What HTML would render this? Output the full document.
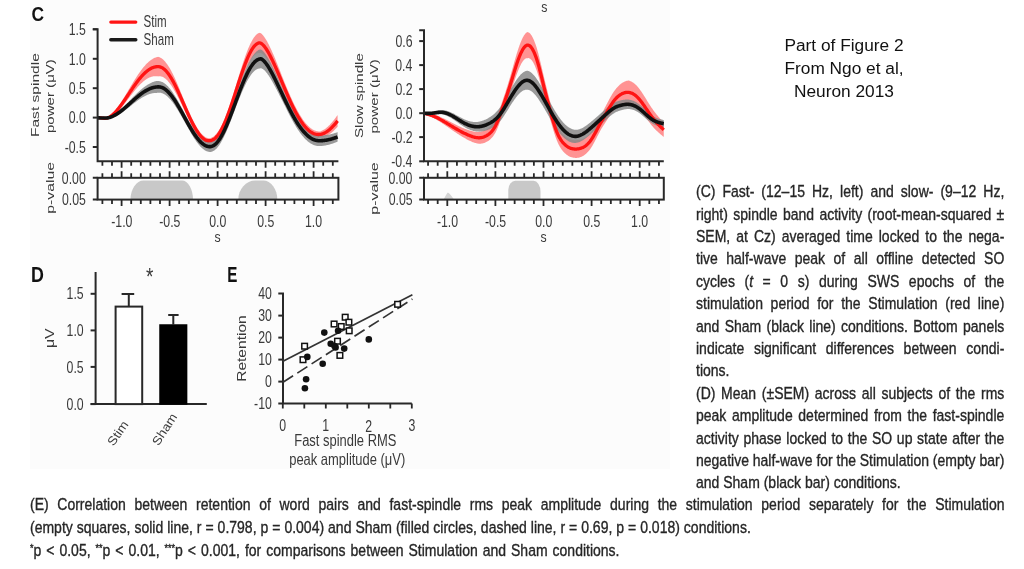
<!DOCTYPE html>
<html><head><meta charset="utf-8"><title>Ngo et al. 2013 Figure 2</title>
<style>
html,body{margin:0;padding:0;background:#fff;}
body{width:1024px;height:569px;position:relative;overflow:hidden;font-family:"Liberation Sans",Arial,Helvetica,sans-serif;}
#fig{position:absolute;left:0;top:0;filter:blur(0.55px);}
.bg{position:absolute;left:30px;top:0;width:640px;height:469px;background:#fcfcfc;}
.l{position:absolute;font-size:14px;line-height:22px;color:#262626;white-space:nowrap;-webkit-text-stroke:0.3px #262626;filter:blur(0.45px);transform-origin:0 15.85px;transform:scaleY(1.12);}
.l sup{font-size:9px;vertical-align:0;position:relative;top:-4px;}
.note{position:absolute;left:744px;width:200px;top:34.3px;text-align:center;font-size:17.3px;line-height:23px;color:#111;}
svg text{font-family:"Liberation Sans",Arial,Helvetica,sans-serif;stroke:none;}
</style></head>
<body>
<div class="bg"></div>
<svg id="fig" width="1024" height="569" viewBox="0 0 1024 569">
<path d="M130.5,199.6 L130.5,199.6 A13,19.0 0 0 1 143.5,180.6 L182.0,180.6 A11,19.0 0 0 1 193.0,199.6 L193.0,199.6 Z" fill="#c8c8c8"/>
<path d="M238.3,199.6 L238.3,199.6 A17,19.0 0 0 1 255.3,180.6 L263.3,180.6 A14,19.0 0 0 1 277.3,199.6 L277.3,199.6 Z" fill="#c8c8c8"/>
<path d="M508.3,199.6 L508.3,189.8 A7,9 0 0 1 515.3,180.8 L533.5,180.8 A7,11 0 0 1 540.5,191.8 L540.5,199.6 Z" fill="#c8c8c8"/>
<path d="M443.6,199.6 Q447.9,191.5 447.9,192.8 Q449,192 454,199.6 Z" fill="#d4d4d4"/>
<path d="M97.60,117.01 L98.08,116.99 L98.56,116.99 L99.04,117.01 L99.52,117.03 L100.00,117.07 L100.48,117.11 L100.96,117.16 L101.44,117.20 L101.92,117.25 L102.40,117.30 L102.88,117.34 L103.36,117.38 L103.84,117.40 L104.32,117.41 L104.80,117.42 L105.28,117.40 L105.76,117.36 L106.24,117.27 L106.72,117.15 L107.20,117.00 L107.68,116.82 L108.16,116.61 L108.64,116.37 L109.12,116.11 L109.60,115.83 L110.08,115.52 L110.56,115.19 L111.04,114.84 L111.52,114.46 L112.00,114.07 L112.48,113.58 L112.96,113.08 L113.44,112.56 L113.92,112.02 L114.40,111.46 L114.88,110.88 L115.36,110.29 L115.84,109.69 L116.32,109.06 L116.80,108.43 L117.28,107.78 L117.76,107.12 L118.24,106.44 L118.72,105.75 L119.20,105.05 L119.68,104.34 L120.16,103.62 L120.64,102.89 L121.12,102.15 L121.60,101.40 L122.08,100.65 L122.56,99.88 L123.04,99.11 L123.52,98.34 L124.00,97.55 L124.48,96.77 L124.96,95.97 L125.44,95.18 L125.92,94.38 L126.40,93.58 L126.88,92.77 L127.36,91.96 L127.84,91.16 L128.32,90.35 L128.80,89.54 L129.28,88.73 L129.76,87.92 L130.24,87.12 L130.72,86.31 L131.20,85.51 L131.68,84.71 L132.16,83.92 L132.64,83.13 L133.12,82.34 L133.60,81.56 L134.08,80.78 L134.56,80.01 L135.04,79.24 L135.52,78.49 L136.00,77.73 L136.48,76.99 L136.96,76.26 L137.44,75.53 L137.92,74.81 L138.40,74.11 L138.88,73.41 L139.36,72.72 L139.84,72.04 L140.32,71.38 L140.80,70.72 L141.28,70.08 L141.76,69.44 L142.24,68.83 L142.72,68.22 L143.20,67.62 L143.68,67.04 L144.16,66.48 L144.64,65.92 L145.12,65.38 L145.60,64.86 L146.08,64.35 L146.56,63.85 L147.04,63.37 L147.52,62.91 L148.00,62.46 L148.48,62.02 L148.96,61.61 L149.44,61.20 L149.92,60.82 L150.40,60.45 L150.88,60.09 L151.36,59.76 L151.84,59.44 L152.32,59.13 L152.80,58.84 L153.28,58.57 L153.76,58.32 L154.24,58.09 L154.72,57.87 L155.20,57.67 L155.68,57.48 L156.16,57.31 L156.64,57.16 L157.12,57.03 L157.60,56.92 L158.08,56.82 L158.56,56.93 L159.04,57.07 L159.52,57.24 L160.00,57.45 L160.48,57.69 L160.96,57.96 L161.44,58.27 L161.92,58.60 L162.40,58.97 L162.88,59.37 L163.36,59.80 L163.84,60.26 L164.32,60.75 L164.80,61.27 L165.28,61.82 L165.76,62.40 L166.24,63.01 L166.72,63.65 L167.20,64.31 L167.68,65.01 L168.16,65.73 L168.64,66.47 L169.12,67.25 L169.60,68.04 L170.08,68.87 L170.56,69.71 L171.04,70.58 L171.52,71.48 L172.00,72.39 L172.48,73.33 L172.96,74.28 L173.44,75.26 L173.92,76.26 L174.40,77.27 L174.88,78.30 L175.36,79.35 L175.84,80.41 L176.32,81.49 L176.80,82.58 L177.28,83.68 L177.76,84.80 L178.24,85.93 L178.72,87.07 L179.20,88.22 L179.68,89.37 L180.16,90.54 L180.64,91.71 L181.12,92.89 L181.60,94.07 L182.08,95.26 L182.56,96.44 L183.04,97.64 L183.52,98.83 L184.00,100.02 L184.48,101.16 L184.96,102.30 L185.44,103.44 L185.92,104.57 L186.40,105.70 L186.88,106.82 L187.36,107.93 L187.84,109.04 L188.32,110.14 L188.80,111.23 L189.28,112.31 L189.76,113.38 L190.24,114.43 L190.72,115.47 L191.20,116.50 L191.68,117.52 L192.16,118.51 L192.64,119.50 L193.12,120.46 L193.60,121.41 L194.08,122.33 L194.56,123.24 L195.04,124.13 L195.52,124.99 L196.00,125.83 L196.48,126.66 L196.96,127.45 L197.44,128.23 L197.92,128.97 L198.40,129.70 L198.88,130.39 L199.36,131.07 L199.84,131.71 L200.32,132.33 L200.80,132.91 L201.28,133.47 L201.76,134.01 L202.24,134.51 L202.72,134.98 L203.20,135.42 L203.68,135.83 L204.16,136.21 L204.64,136.56 L205.12,136.88 L205.60,137.16 L206.08,137.42 L206.56,137.64 L207.04,137.83 L207.52,137.99 L208.00,138.11 L208.48,138.21 L208.96,138.27 L209.44,138.30 L209.92,138.31 L210.40,138.18 L210.88,138.02 L211.36,137.84 L211.84,137.61 L212.32,137.36 L212.80,137.07 L213.28,136.74 L213.76,136.38 L214.24,135.98 L214.72,135.55 L215.20,135.08 L215.68,134.58 L216.16,134.04 L216.64,133.46 L217.12,132.84 L217.60,132.19 L218.08,131.50 L218.56,130.78 L219.04,130.01 L219.52,129.22 L220.00,128.39 L220.48,127.52 L220.96,126.62 L221.44,125.68 L221.92,124.71 L222.40,123.71 L222.88,122.67 L223.36,121.61 L223.84,120.51 L224.32,119.38 L224.80,118.22 L225.28,117.04 L225.76,115.82 L226.24,114.58 L226.72,113.31 L227.20,112.02 L227.68,110.70 L228.16,109.36 L228.64,107.99 L229.12,106.61 L229.60,105.21 L230.08,103.78 L230.56,102.34 L231.04,100.89 L231.52,99.41 L232.00,97.93 L232.48,96.43 L232.96,94.92 L233.44,93.40 L233.92,91.87 L234.40,90.33 L234.88,88.79 L235.36,87.24 L235.84,85.69 L236.32,84.14 L236.80,82.59 L237.28,81.01 L237.76,79.44 L238.24,77.87 L238.72,76.31 L239.20,74.75 L239.68,73.21 L240.16,71.67 L240.64,70.14 L241.12,68.63 L241.60,67.13 L242.08,65.64 L242.56,64.17 L243.04,62.72 L243.52,61.29 L244.00,59.88 L244.48,58.49 L244.96,57.13 L245.44,55.79 L245.92,54.48 L246.40,53.20 L246.88,51.94 L247.36,50.72 L247.84,49.52 L248.32,48.36 L248.80,47.24 L249.28,46.14 L249.76,45.09 L250.24,44.07 L250.72,43.09 L251.20,42.15 L251.68,41.24 L252.16,40.38 L252.64,39.57 L253.12,38.79 L253.60,38.06 L254.08,37.37 L254.56,36.73 L255.04,36.13 L255.52,35.58 L256.00,35.08 L256.48,34.62 L256.96,34.22 L257.44,33.86 L257.92,33.55 L258.40,33.29 L258.88,33.07 L259.36,32.91 L259.84,32.80 L260.32,32.98 L260.80,33.25 L261.28,33.60 L261.76,34.01 L262.24,34.47 L262.72,34.99 L263.20,35.55 L263.68,36.15 L264.16,36.79 L264.64,37.47 L265.12,38.19 L265.60,38.94 L266.08,39.72 L266.56,40.53 L267.04,41.37 L267.52,42.24 L268.00,43.13 L268.48,44.05 L268.96,44.99 L269.44,45.95 L269.92,46.94 L270.40,47.94 L270.88,48.97 L271.36,50.01 L271.84,51.07 L272.32,52.14 L272.80,53.23 L273.28,54.34 L273.76,55.45 L274.24,56.58 L274.72,57.72 L275.20,58.87 L275.68,60.03 L276.16,61.20 L276.64,62.38 L277.12,63.57 L277.60,64.76 L278.08,65.96 L278.56,67.16 L279.04,68.37 L279.52,69.58 L280.00,70.79 L280.48,72.01 L280.96,73.22 L281.44,74.44 L281.92,75.66 L282.40,76.88 L282.88,78.09 L283.36,79.31 L283.84,80.52 L284.32,81.73 L284.80,82.93 L285.28,84.10 L285.76,85.25 L286.24,86.40 L286.72,87.55 L287.20,88.69 L287.68,89.82 L288.16,90.94 L288.64,92.06 L289.12,93.17 L289.60,94.27 L290.08,95.36 L290.56,96.44 L291.04,97.51 L291.52,98.56 L292.00,99.61 L292.48,100.65 L292.96,101.67 L293.44,102.68 L293.92,103.68 L294.40,104.66 L294.88,105.63 L295.36,106.59 L295.84,107.53 L296.32,108.46 L296.80,109.37 L297.28,110.27 L297.76,111.15 L298.24,112.01 L298.72,112.86 L299.20,113.70 L299.68,114.51 L300.16,115.31 L300.64,116.09 L301.12,116.85 L301.60,117.60 L302.08,118.33 L302.56,119.04 L303.04,119.73 L303.52,120.40 L304.00,121.05 L304.48,121.69 L304.96,122.30 L305.44,122.90 L305.92,123.47 L306.40,124.03 L306.88,124.57 L307.36,125.08 L307.84,125.58 L308.32,126.06 L308.80,126.52 L309.28,126.95 L309.76,127.37 L310.24,127.76 L310.72,128.14 L311.20,128.50 L311.68,128.83 L312.16,129.15 L312.64,129.44 L313.12,129.71 L313.60,129.97 L314.08,130.20 L314.56,130.41 L315.04,130.60 L315.52,130.77 L316.00,130.92 L316.48,131.05 L316.96,131.16 L317.44,131.26 L317.92,131.33 L318.40,131.38 L318.88,131.41 L319.36,131.42 L319.84,131.41 L320.32,131.38 L320.80,131.22 L321.28,131.03 L321.76,130.82 L322.24,130.60 L322.72,130.36 L323.20,130.10 L323.68,129.82 L324.16,129.52 L324.64,129.21 L325.12,128.88 L325.60,128.53 L326.08,128.16 L326.56,127.77 L327.04,127.37 L327.52,126.96 L328.00,126.52 L328.48,126.07 L328.96,125.61 L329.44,125.13 L329.92,124.63 L330.40,124.12 L330.88,123.60 L331.36,123.06 L331.84,122.50 L332.32,121.94 L332.80,121.36 L333.28,120.77 L333.76,120.17 L334.24,119.55 L334.72,118.93 L335.20,118.29 L335.68,117.64 L336.16,116.99 L336.64,116.32 L337.12,115.65 L337.60,114.96 L337.60,126.82 L337.12,127.34 L336.64,127.85 L336.16,128.35 L335.68,128.85 L335.20,129.33 L334.72,129.80 L334.24,130.26 L333.76,130.71 L333.28,131.15 L332.80,131.57 L332.32,131.99 L331.84,132.39 L331.36,132.78 L330.88,133.15 L330.40,133.51 L329.92,133.86 L329.44,134.19 L328.96,134.50 L328.48,134.80 L328.00,135.09 L327.52,135.36 L327.04,135.61 L326.56,135.85 L326.08,136.07 L325.60,136.27 L325.12,136.45 L324.64,136.62 L324.16,136.77 L323.68,136.90 L323.20,137.02 L322.72,137.11 L322.24,137.19 L321.76,137.25 L321.28,137.29 L320.80,137.31 L320.32,137.31 L319.84,137.42 L319.36,137.51 L318.88,137.58 L318.40,137.63 L317.92,137.66 L317.44,137.67 L316.96,137.66 L316.48,137.63 L316.00,137.58 L315.52,137.50 L315.04,137.41 L314.56,137.30 L314.08,137.17 L313.60,137.02 L313.12,136.84 L312.64,136.65 L312.16,136.44 L311.68,136.20 L311.20,135.95 L310.72,135.67 L310.24,135.38 L309.76,135.06 L309.28,134.73 L308.80,134.37 L308.32,133.99 L307.84,133.59 L307.36,133.18 L306.88,132.74 L306.40,132.28 L305.92,131.81 L305.44,131.31 L304.96,130.80 L304.48,130.26 L304.00,129.71 L303.52,129.13 L303.04,128.54 L302.56,127.93 L302.08,127.30 L301.60,126.65 L301.12,125.99 L300.64,125.31 L300.16,124.61 L299.68,123.89 L299.20,123.15 L298.72,122.40 L298.24,121.63 L297.76,120.85 L297.28,120.04 L296.80,119.23 L296.32,118.40 L295.84,117.55 L295.36,116.69 L294.88,115.81 L294.40,114.92 L293.92,114.01 L293.44,113.10 L292.96,112.17 L292.48,111.22 L292.00,110.27 L291.52,109.30 L291.04,108.32 L290.56,107.33 L290.08,106.34 L289.60,105.33 L289.12,104.31 L288.64,103.28 L288.16,102.24 L287.68,101.20 L287.20,100.15 L286.72,99.09 L286.24,98.02 L285.76,96.95 L285.28,95.88 L284.80,94.79 L284.32,93.75 L283.84,92.70 L283.36,91.65 L282.88,90.59 L282.40,89.54 L281.92,88.48 L281.44,87.42 L280.96,86.36 L280.48,85.30 L280.00,84.25 L279.52,83.19 L279.04,82.14 L278.56,81.10 L278.08,80.05 L277.60,79.01 L277.12,77.98 L276.64,76.96 L276.16,75.94 L275.68,74.93 L275.20,73.93 L274.72,72.94 L274.24,71.95 L273.76,70.98 L273.28,70.03 L272.80,69.08 L272.32,68.15 L271.84,67.24 L271.36,66.34 L270.88,65.46 L270.40,64.59 L269.92,63.75 L269.44,62.92 L268.96,62.12 L268.48,61.34 L268.00,60.58 L267.52,59.85 L267.04,59.14 L266.56,58.46 L266.08,57.81 L265.60,57.18 L265.12,56.59 L264.64,56.04 L264.16,55.52 L263.68,55.03 L263.20,54.59 L262.72,54.19 L262.24,53.84 L261.76,53.53 L261.28,53.28 L260.80,53.09 L260.32,52.98 L259.84,52.96 L259.36,52.90 L258.88,52.89 L258.40,52.93 L257.92,53.02 L257.44,53.15 L256.96,53.34 L256.48,53.57 L256.00,53.86 L255.52,54.19 L255.04,54.56 L254.56,54.99 L254.08,55.46 L253.60,55.97 L253.12,56.53 L252.64,57.13 L252.16,57.78 L251.68,58.47 L251.20,59.19 L250.72,59.96 L250.24,60.77 L249.76,61.62 L249.28,62.50 L248.80,63.42 L248.32,64.37 L247.84,65.36 L247.36,66.38 L246.88,67.43 L246.40,68.52 L245.92,69.63 L245.44,70.77 L244.96,71.93 L244.48,73.12 L244.00,74.34 L243.52,75.57 L243.04,76.83 L242.56,78.11 L242.08,79.40 L241.60,80.71 L241.12,82.04 L240.64,83.38 L240.16,84.74 L239.68,86.10 L239.20,87.48 L238.72,88.86 L238.24,90.25 L237.76,91.65 L237.28,93.05 L236.80,94.45 L236.32,95.87 L235.84,97.30 L235.36,98.72 L234.88,100.14 L234.40,101.56 L233.92,102.97 L233.44,104.37 L232.96,105.76 L232.48,107.14 L232.00,108.52 L231.52,109.88 L231.04,111.22 L230.56,112.55 L230.08,113.86 L229.60,115.16 L229.12,116.44 L228.64,117.69 L228.16,118.93 L227.68,120.14 L227.20,121.33 L226.72,122.50 L226.24,123.64 L225.76,124.76 L225.28,125.85 L224.80,126.91 L224.32,127.94 L223.84,128.94 L223.36,129.91 L222.88,130.85 L222.40,131.76 L221.92,132.63 L221.44,133.48 L220.96,134.28 L220.48,135.06 L220.00,135.80 L219.52,136.50 L219.04,137.17 L218.56,137.81 L218.08,138.40 L217.60,138.97 L217.12,139.49 L216.64,139.98 L216.16,140.43 L215.68,140.85 L215.20,141.23 L214.72,141.57 L214.24,141.87 L213.76,142.14 L213.28,142.38 L212.80,142.57 L212.32,142.74 L211.84,142.87 L211.36,142.96 L210.88,143.02 L210.40,143.05 L209.92,143.05 L209.44,143.13 L208.96,143.19 L208.48,143.21 L208.00,143.21 L207.52,143.17 L207.04,143.10 L206.56,143.00 L206.08,142.87 L205.60,142.70 L205.12,142.50 L204.64,142.27 L204.16,142.01 L203.68,141.72 L203.20,141.39 L202.72,141.04 L202.24,140.66 L201.76,140.24 L201.28,139.80 L200.80,139.33 L200.32,138.83 L199.84,138.30 L199.36,137.74 L198.88,137.16 L198.40,136.55 L197.92,135.91 L197.44,135.25 L196.96,134.57 L196.48,133.86 L196.00,133.13 L195.52,132.37 L195.04,131.59 L194.56,130.79 L194.08,129.98 L193.60,129.14 L193.12,128.28 L192.64,127.40 L192.16,126.51 L191.68,125.60 L191.20,124.67 L190.72,123.73 L190.24,122.78 L189.76,121.81 L189.28,120.83 L188.80,119.84 L188.32,118.84 L187.84,117.83 L187.36,116.81 L186.88,115.78 L186.40,114.74 L185.92,113.70 L185.44,112.66 L184.96,111.61 L184.48,110.56 L184.00,109.51 L183.52,108.50 L183.04,107.50 L182.56,106.49 L182.08,105.49 L181.60,104.49 L181.12,103.50 L180.64,102.51 L180.16,101.52 L179.68,100.54 L179.20,99.57 L178.72,98.61 L178.24,97.66 L177.76,96.72 L177.28,95.79 L176.80,94.87 L176.32,93.96 L175.84,93.07 L175.36,92.20 L174.88,91.33 L174.40,90.49 L173.92,89.66 L173.44,88.86 L172.96,88.07 L172.48,87.30 L172.00,86.55 L171.52,85.82 L171.04,85.11 L170.56,84.43 L170.08,83.77 L169.60,83.13 L169.12,82.52 L168.64,81.94 L168.16,81.38 L167.68,80.84 L167.20,80.34 L166.72,79.86 L166.24,79.41 L165.76,78.98 L165.28,78.59 L164.80,78.22 L164.32,77.89 L163.84,77.59 L163.36,77.31 L162.88,77.07 L162.40,76.86 L161.92,76.68 L161.44,76.53 L160.96,76.41 L160.48,76.33 L160.00,76.27 L159.52,76.25 L159.04,76.26 L158.56,76.31 L158.08,76.39 L157.60,76.31 L157.12,76.24 L156.64,76.19 L156.16,76.16 L155.68,76.15 L155.20,76.16 L154.72,76.18 L154.24,76.22 L153.76,76.27 L153.28,76.34 L152.80,76.43 L152.32,76.54 L151.84,76.66 L151.36,76.80 L150.88,76.96 L150.40,77.14 L149.92,77.33 L149.44,77.53 L148.96,77.75 L148.48,77.99 L148.00,78.25 L147.52,78.52 L147.04,78.80 L146.56,79.10 L146.08,79.42 L145.60,79.75 L145.12,80.09 L144.64,80.45 L144.16,80.83 L143.68,81.21 L143.20,81.61 L142.72,82.03 L142.24,82.45 L141.76,82.89 L141.28,83.34 L140.80,83.81 L140.32,84.28 L139.84,84.77 L139.36,85.27 L138.88,85.78 L138.40,86.29 L137.92,86.82 L137.44,87.36 L136.96,87.91 L136.48,88.46 L136.00,89.02 L135.52,89.59 L135.04,90.17 L134.56,90.76 L134.08,91.35 L133.60,91.94 L133.12,92.55 L132.64,93.15 L132.16,93.77 L131.68,94.38 L131.20,95.00 L130.72,95.62 L130.24,96.25 L129.76,96.88 L129.28,97.51 L128.80,98.14 L128.32,98.77 L127.84,99.40 L127.36,100.03 L126.88,100.66 L126.40,101.28 L125.92,101.91 L125.44,102.53 L124.96,103.15 L124.48,103.76 L124.00,104.37 L123.52,104.98 L123.04,105.58 L122.56,106.17 L122.08,106.75 L121.60,107.33 L121.12,107.90 L120.64,108.47 L120.16,109.02 L119.68,109.56 L119.20,110.09 L118.72,110.61 L118.24,111.12 L117.76,111.62 L117.28,112.11 L116.80,112.58 L116.32,113.04 L115.84,113.48 L115.36,113.91 L114.88,114.32 L114.40,114.72 L113.92,115.10 L113.44,115.46 L112.96,115.81 L112.48,116.13 L112.00,116.44 L111.52,116.79 L111.04,117.13 L110.56,117.44 L110.08,117.73 L109.60,118.00 L109.12,118.25 L108.64,118.47 L108.16,118.66 L107.68,118.83 L107.20,118.97 L106.72,119.09 L106.24,119.17 L105.76,119.21 L105.28,119.22 L104.80,119.19 L104.32,119.15 L103.84,119.10 L103.36,119.04 L102.88,118.96 L102.40,118.88 L101.92,118.80 L101.44,118.71 L100.96,118.62 L100.48,118.53 L100.00,118.45 L99.52,118.38 L99.04,118.31 L98.56,118.26 L98.08,118.22 L97.60,118.19 Z" fill="#ff8a8a" opacity="0.92"/>
<path d="M97.60,117.30 L98.08,117.29 L98.56,117.27 L99.04,117.26 L99.52,117.25 L100.00,117.24 L100.48,117.24 L100.96,117.24 L101.44,117.23 L101.92,117.23 L102.40,117.23 L102.88,117.22 L103.36,117.22 L103.84,117.21 L104.32,117.20 L104.80,117.18 L105.28,117.17 L105.76,117.14 L106.24,117.09 L106.72,117.03 L107.20,116.95 L107.68,116.85 L108.16,116.75 L108.64,116.62 L109.12,116.49 L109.60,116.34 L110.08,116.18 L110.56,116.00 L111.04,115.82 L111.52,115.62 L112.00,115.41 L112.48,115.15 L112.96,114.88 L113.44,114.61 L113.92,114.32 L114.40,114.02 L114.88,113.71 L115.36,113.39 L115.84,113.05 L116.32,112.71 L116.80,112.36 L117.28,112.00 L117.76,111.64 L118.24,111.26 L118.72,110.88 L119.20,110.48 L119.68,110.08 L120.16,109.67 L120.64,109.26 L121.12,108.84 L121.60,108.41 L122.08,107.98 L122.56,107.54 L123.04,107.09 L123.52,106.64 L124.00,106.19 L124.48,105.73 L124.96,105.26 L125.44,104.80 L125.92,104.33 L126.40,103.85 L126.88,103.38 L127.36,102.90 L127.84,102.42 L128.32,101.93 L128.80,101.45 L129.28,100.96 L129.76,100.48 L130.24,99.99 L130.72,99.50 L131.20,99.02 L131.68,98.53 L132.16,98.05 L132.64,97.56 L133.12,97.08 L133.60,96.60 L134.08,96.12 L134.56,95.65 L135.04,95.17 L135.52,94.70 L136.00,94.24 L136.48,93.78 L136.96,93.32 L137.44,92.86 L137.92,92.41 L138.40,91.97 L138.88,91.53 L139.36,91.09 L139.84,90.67 L140.32,90.24 L140.80,89.83 L141.28,89.42 L141.76,89.02 L142.24,88.62 L142.72,88.23 L143.20,87.85 L143.68,87.48 L144.16,87.11 L144.64,86.76 L145.12,86.41 L145.60,86.07 L146.08,85.74 L146.56,85.42 L147.04,85.10 L147.52,84.80 L148.00,84.51 L148.48,84.22 L148.96,83.95 L149.44,83.68 L149.92,83.43 L150.40,83.19 L150.88,82.95 L151.36,82.73 L151.84,82.52 L152.32,82.31 L152.80,82.12 L153.28,81.94 L153.76,81.77 L154.24,81.62 L154.72,81.47 L155.20,81.33 L155.68,81.21 L156.16,81.09 L156.64,81.07 L157.12,81.06 L157.60,81.05 L158.08,81.06 L158.56,81.08 L159.04,81.12 L159.52,81.19 L160.00,81.28 L160.48,81.39 L160.96,81.54 L161.44,81.70 L161.92,81.90 L162.40,82.11 L162.88,82.36 L163.36,82.62 L163.84,82.92 L164.32,83.23 L164.80,83.57 L165.28,83.94 L165.76,84.33 L166.24,84.74 L166.72,85.17 L167.20,85.63 L167.68,86.11 L168.16,86.61 L168.64,87.14 L169.12,87.68 L169.60,88.24 L170.08,88.83 L170.56,89.43 L171.04,90.06 L171.52,90.70 L172.00,91.36 L172.48,92.04 L172.96,92.73 L173.44,93.44 L173.92,94.17 L174.40,94.91 L174.88,95.67 L175.36,96.44 L175.84,97.22 L176.32,98.02 L176.80,98.83 L177.28,99.65 L177.76,100.48 L178.24,101.32 L178.72,102.17 L179.20,103.03 L179.68,103.89 L180.16,104.77 L180.64,105.65 L181.12,106.53 L181.60,107.42 L182.08,108.32 L182.56,109.21 L183.04,110.11 L183.52,111.02 L184.00,111.92 L184.48,112.82 L184.96,113.73 L185.44,114.63 L185.92,115.53 L186.40,116.43 L186.88,117.32 L187.36,118.21 L187.84,119.09 L188.32,119.97 L188.80,120.85 L189.28,121.66 L189.76,122.47 L190.24,123.26 L190.72,124.05 L191.20,124.83 L191.68,125.60 L192.16,126.35 L192.64,127.10 L193.12,127.83 L193.60,128.55 L194.08,129.25 L194.56,129.94 L195.04,130.62 L195.52,131.27 L196.00,131.92 L196.48,132.54 L196.96,133.15 L197.44,133.74 L197.92,134.31 L198.40,134.86 L198.88,135.39 L199.36,135.91 L199.84,136.40 L200.32,136.87 L200.80,137.32 L201.28,137.74 L201.76,138.15 L202.24,138.53 L202.72,138.89 L203.20,139.23 L203.68,139.54 L204.16,139.83 L204.64,140.09 L205.12,140.33 L205.60,140.55 L206.08,140.74 L206.56,140.90 L207.04,141.04 L207.52,141.16 L208.00,141.25 L208.48,141.31 L208.96,141.35 L209.44,141.36 L209.92,141.35 L210.40,141.30 L210.88,141.23 L211.36,141.13 L211.84,140.98 L212.32,140.80 L212.80,140.57 L213.28,140.31 L213.76,140.02 L214.24,139.68 L214.72,139.31 L215.20,138.90 L215.68,138.46 L216.16,137.97 L216.64,137.46 L217.12,136.90 L217.60,136.32 L218.08,135.69 L218.56,135.04 L219.04,134.35 L219.52,133.63 L220.00,132.88 L220.48,132.09 L220.96,131.28 L221.44,130.43 L221.92,129.56 L222.40,128.65 L222.88,127.72 L223.36,126.77 L223.84,125.78 L224.32,124.77 L224.80,123.74 L225.28,122.69 L225.76,121.61 L226.24,120.51 L226.72,119.39 L227.20,118.25 L227.68,117.09 L228.16,115.91 L228.64,114.72 L229.12,113.51 L229.60,112.29 L230.08,111.05 L230.56,109.80 L231.04,108.54 L231.52,107.27 L232.00,105.99 L232.48,104.70 L232.96,103.41 L233.44,102.11 L233.92,100.81 L234.40,99.50 L234.88,98.19 L235.36,96.88 L235.84,95.57 L236.32,94.26 L236.80,92.95 L237.28,91.58 L237.76,90.22 L238.24,88.86 L238.72,87.51 L239.20,86.17 L239.68,84.83 L240.16,83.51 L240.64,82.20 L241.12,80.90 L241.60,79.61 L242.08,78.34 L242.56,77.08 L243.04,75.84 L243.52,74.62 L244.00,73.42 L244.48,72.23 L244.96,71.07 L245.44,69.93 L245.92,68.81 L246.40,67.71 L246.88,66.64 L247.36,65.59 L247.84,64.57 L248.32,63.58 L248.80,62.61 L249.28,61.68 L249.76,60.77 L250.24,59.89 L250.72,59.04 L251.20,58.23 L251.68,57.44 L252.16,56.69 L252.64,55.97 L253.12,55.28 L253.60,54.63 L254.08,54.02 L254.56,53.44 L255.04,52.89 L255.52,52.38 L256.00,51.91 L256.48,51.48 L256.96,51.08 L257.44,50.72 L257.92,50.39 L258.40,50.11 L258.88,49.86 L259.36,49.65 L259.84,49.48 L260.32,49.49 L260.80,49.54 L261.28,49.72 L261.76,50.01 L262.24,50.37 L262.72,50.79 L263.20,51.26 L263.68,51.78 L264.16,52.34 L264.64,52.93 L265.12,53.57 L265.60,54.24 L266.08,54.94 L266.56,55.66 L267.04,56.42 L267.52,57.20 L268.00,58.01 L268.48,58.84 L268.96,59.69 L269.44,60.56 L269.92,61.45 L270.40,62.36 L270.88,63.28 L271.36,64.22 L271.84,65.18 L272.32,66.15 L272.80,67.13 L273.28,68.13 L273.76,69.14 L274.24,70.15 L274.72,71.18 L275.20,72.22 L275.68,73.26 L276.16,74.31 L276.64,75.37 L277.12,76.43 L277.60,77.50 L278.08,78.58 L278.56,79.65 L279.04,80.73 L279.52,81.82 L280.00,82.90 L280.48,83.98 L280.96,85.07 L281.44,86.16 L281.92,87.24 L282.40,88.33 L282.88,89.41 L283.36,90.49 L283.84,91.57 L284.32,92.64 L284.80,93.71 L285.28,94.72 L285.76,95.72 L286.24,96.71 L286.72,97.71 L287.20,98.69 L287.68,99.67 L288.16,100.64 L288.64,101.60 L289.12,102.55 L289.60,103.50 L290.08,104.44 L290.56,105.37 L291.04,106.29 L291.52,107.20 L292.00,108.10 L292.48,108.98 L292.96,109.86 L293.44,110.73 L293.92,111.58 L294.40,112.43 L294.88,113.26 L295.36,114.08 L295.84,114.89 L296.32,115.68 L296.80,116.46 L297.28,117.23 L297.76,117.98 L298.24,118.72 L298.72,119.44 L299.20,120.16 L299.68,120.85 L300.16,121.53 L300.64,122.20 L301.12,122.85 L301.60,123.49 L302.08,124.11 L302.56,124.71 L303.04,125.30 L303.52,125.88 L304.00,126.43 L304.48,126.98 L304.96,127.50 L305.44,128.01 L305.92,128.50 L306.40,128.98 L306.88,129.43 L307.36,129.88 L307.84,130.30 L308.32,130.71 L308.80,131.10 L309.28,131.47 L309.76,131.83 L310.24,132.17 L310.72,132.49 L311.20,132.80 L311.68,133.09 L312.16,133.36 L312.64,133.61 L313.12,133.85 L313.60,134.07 L314.08,134.27 L314.56,134.46 L315.04,134.62 L315.52,134.77 L316.00,134.91 L316.48,135.03 L316.96,135.13 L317.44,135.21 L317.92,135.28 L318.40,135.32 L318.88,135.36 L319.36,135.37 L319.84,135.38 L320.32,135.38 L320.80,135.38 L321.28,135.38 L321.76,135.37 L322.24,135.36 L322.72,135.34 L323.20,135.31 L323.68,135.28 L324.16,135.24 L324.64,135.20 L325.12,135.15 L325.60,135.10 L326.08,135.04 L326.56,134.98 L327.04,134.91 L327.52,134.84 L328.00,134.76 L328.48,134.67 L328.96,134.58 L329.44,134.49 L329.92,134.39 L330.40,134.28 L330.88,134.17 L331.36,134.06 L331.84,133.94 L332.32,133.81 L332.80,133.68 L333.28,133.55 L333.76,133.41 L334.24,133.27 L334.72,133.12 L335.20,132.97 L335.68,132.81 L336.16,132.65 L336.64,132.49 L337.12,132.32 L337.60,132.15 L337.60,141.63 L337.12,141.84 L336.64,142.04 L336.16,142.24 L335.68,142.43 L335.20,142.62 L334.72,142.81 L334.24,142.99 L333.76,143.16 L333.28,143.33 L332.80,143.50 L332.32,143.66 L331.84,143.82 L331.36,143.97 L330.88,144.12 L330.40,144.26 L329.92,144.40 L329.44,144.53 L328.96,144.66 L328.48,144.78 L328.00,144.90 L327.52,145.01 L327.04,145.12 L326.56,145.22 L326.08,145.32 L325.60,145.41 L325.12,145.50 L324.64,145.58 L324.16,145.65 L323.68,145.72 L323.20,145.79 L322.72,145.84 L322.24,145.90 L321.76,145.94 L321.28,145.99 L320.80,146.02 L320.32,146.05 L319.84,146.07 L319.36,146.08 L318.88,146.08 L318.40,146.06 L317.92,146.03 L317.44,145.98 L316.96,145.91 L316.48,145.83 L316.00,145.73 L315.52,145.61 L315.04,145.47 L314.56,145.32 L314.08,145.15 L313.60,144.97 L313.12,144.76 L312.64,144.54 L312.16,144.30 L311.68,144.05 L311.20,143.78 L310.72,143.49 L310.24,143.18 L309.76,142.86 L309.28,142.52 L308.80,142.16 L308.32,141.78 L307.84,141.39 L307.36,140.98 L306.88,140.56 L306.40,140.11 L305.92,139.66 L305.44,139.18 L304.96,138.69 L304.48,138.18 L304.00,137.65 L303.52,137.11 L303.04,136.55 L302.56,135.98 L302.08,135.39 L301.60,134.79 L301.12,134.17 L300.64,133.53 L300.16,132.88 L299.68,132.21 L299.20,131.53 L298.72,130.84 L298.24,130.13 L297.76,129.41 L297.28,128.67 L296.80,127.92 L296.32,127.15 L295.84,126.38 L295.36,125.59 L294.88,124.78 L294.40,123.97 L293.92,123.14 L293.44,122.30 L292.96,121.45 L292.48,120.59 L292.00,119.71 L291.52,118.83 L291.04,117.94 L290.56,117.03 L290.08,116.12 L289.60,115.20 L289.12,114.27 L288.64,113.33 L288.16,112.38 L287.68,111.43 L287.20,110.47 L286.72,109.50 L286.24,108.53 L285.76,107.55 L285.28,106.56 L284.80,105.57 L284.32,104.64 L283.84,103.70 L283.36,102.76 L282.88,101.82 L282.40,100.87 L281.92,99.92 L281.44,98.98 L280.96,98.03 L280.48,97.08 L280.00,96.13 L279.52,95.18 L279.04,94.23 L278.56,93.29 L278.08,92.35 L277.60,91.42 L277.12,90.48 L276.64,89.56 L276.16,88.64 L275.68,87.72 L275.20,86.81 L274.72,85.92 L274.24,85.02 L273.76,84.14 L273.28,83.27 L272.80,82.42 L272.32,81.57 L271.84,80.74 L271.36,79.92 L270.88,79.11 L270.40,78.32 L269.92,77.55 L269.44,76.80 L268.96,76.06 L268.48,75.35 L268.00,74.66 L267.52,73.99 L267.04,73.34 L266.56,72.72 L266.08,72.13 L265.60,71.57 L265.12,71.04 L264.64,70.54 L264.16,70.08 L263.68,69.66 L263.20,69.28 L262.72,68.94 L262.24,68.66 L261.76,68.44 L261.28,68.29 L260.80,68.24 L260.32,68.33 L259.84,68.46 L259.36,68.48 L258.88,68.54 L258.40,68.64 L257.92,68.78 L257.44,68.95 L256.96,69.16 L256.48,69.41 L256.00,69.70 L255.52,70.03 L255.04,70.39 L254.56,70.78 L254.08,71.22 L253.60,71.68 L253.12,72.19 L252.64,72.72 L252.16,73.29 L251.68,73.90 L251.20,74.53 L250.72,75.20 L250.24,75.90 L249.76,76.63 L249.28,77.39 L248.80,78.18 L248.32,79.00 L247.84,79.84 L247.36,80.72 L246.88,81.61 L246.40,82.54 L245.92,83.49 L245.44,84.46 L244.96,85.45 L244.48,86.47 L244.00,87.50 L243.52,88.56 L243.04,89.63 L242.56,90.72 L242.08,91.83 L241.60,92.95 L241.12,94.09 L240.64,95.24 L240.16,96.41 L239.68,97.58 L239.20,98.77 L238.72,99.96 L238.24,101.17 L237.76,102.37 L237.28,103.59 L236.80,104.81 L236.32,106.09 L235.84,107.38 L235.36,108.67 L234.88,109.96 L234.40,111.25 L233.92,112.54 L233.44,113.82 L232.96,115.10 L232.48,116.37 L232.00,117.64 L231.52,118.89 L231.04,120.14 L230.56,121.38 L230.08,122.61 L229.60,123.82 L229.12,125.02 L228.64,126.21 L228.16,127.38 L227.68,128.54 L227.20,129.68 L226.72,130.79 L226.24,131.89 L225.76,132.97 L225.28,134.03 L224.80,135.06 L224.32,136.07 L223.84,137.06 L223.36,138.02 L222.88,138.96 L222.40,139.87 L221.92,140.75 L221.44,141.60 L220.96,142.42 L220.48,143.22 L220.00,143.98 L219.52,144.71 L219.04,145.41 L218.56,146.08 L218.08,146.71 L217.60,147.31 L217.12,147.88 L216.64,148.41 L216.16,148.91 L215.68,149.37 L215.20,149.79 L214.72,150.18 L214.24,150.53 L213.76,150.84 L213.28,151.12 L212.80,151.36 L212.32,151.56 L211.84,151.72 L211.36,151.84 L210.88,151.93 L210.40,151.97 L209.92,151.97 L209.44,151.93 L208.96,151.86 L208.48,151.77 L208.00,151.66 L207.52,151.51 L207.04,151.35 L206.56,151.15 L206.08,150.94 L205.60,150.69 L205.12,150.43 L204.64,150.13 L204.16,149.82 L203.68,149.47 L203.20,149.11 L202.72,148.72 L202.24,148.31 L201.76,147.87 L201.28,147.42 L200.80,146.94 L200.32,146.43 L199.84,145.91 L199.36,145.37 L198.88,144.80 L198.40,144.22 L197.92,143.61 L197.44,142.99 L196.96,142.35 L196.48,141.69 L196.00,141.01 L195.52,140.31 L195.04,139.60 L194.56,138.88 L194.08,138.13 L193.60,137.38 L193.12,136.61 L192.64,135.82 L192.16,135.02 L191.68,134.22 L191.20,133.40 L190.72,132.56 L190.24,131.72 L189.76,130.87 L189.28,130.02 L188.80,129.15 L188.32,128.33 L187.84,127.50 L187.36,126.67 L186.88,125.83 L186.40,124.99 L185.92,124.14 L185.44,123.30 L184.96,122.45 L184.48,121.59 L184.00,120.74 L183.52,119.89 L183.04,119.04 L182.56,118.20 L182.08,117.35 L181.60,116.51 L181.12,115.67 L180.64,114.84 L180.16,114.01 L179.68,113.19 L179.20,112.38 L178.72,111.57 L178.24,110.77 L177.76,109.98 L177.28,109.21 L176.80,108.44 L176.32,107.68 L175.84,106.94 L175.36,106.21 L174.88,105.49 L174.40,104.78 L173.92,104.09 L173.44,103.42 L172.96,102.76 L172.48,102.12 L172.00,101.49 L171.52,100.88 L171.04,100.30 L170.56,99.72 L170.08,99.17 L169.60,98.64 L169.12,98.13 L168.64,97.64 L168.16,97.17 L167.68,96.72 L167.20,96.29 L166.72,95.88 L166.24,95.50 L165.76,95.14 L165.28,94.81 L164.80,94.49 L164.32,94.20 L163.84,93.94 L163.36,93.70 L162.88,93.48 L162.40,93.29 L161.92,93.13 L161.44,92.99 L160.96,92.87 L160.48,92.78 L160.00,92.72 L159.52,92.68 L159.04,92.67 L158.56,92.68 L158.08,92.71 L157.60,92.76 L157.12,92.81 L156.64,92.88 L156.16,92.95 L155.68,92.96 L155.20,92.99 L154.72,93.02 L154.24,93.06 L153.76,93.12 L153.28,93.18 L152.80,93.26 L152.32,93.35 L151.84,93.45 L151.36,93.56 L150.88,93.68 L150.40,93.81 L149.92,93.95 L149.44,94.10 L148.96,94.26 L148.48,94.43 L148.00,94.61 L147.52,94.80 L147.04,95.00 L146.56,95.21 L146.08,95.43 L145.60,95.66 L145.12,95.90 L144.64,96.14 L144.16,96.40 L143.68,96.66 L143.20,96.93 L142.72,97.21 L142.24,97.49 L141.76,97.78 L141.28,98.08 L140.80,98.39 L140.32,98.70 L139.84,99.02 L139.36,99.35 L138.88,99.68 L138.40,100.01 L137.92,100.35 L137.44,100.70 L136.96,101.05 L136.48,101.41 L136.00,101.77 L135.52,102.13 L135.04,102.50 L134.56,102.87 L134.08,103.24 L133.60,103.61 L133.12,103.99 L132.64,104.37 L132.16,104.75 L131.68,105.13 L131.20,105.51 L130.72,105.90 L130.24,106.28 L129.76,106.67 L129.28,107.05 L128.80,107.43 L128.32,107.81 L127.84,108.19 L127.36,108.57 L126.88,108.95 L126.40,109.32 L125.92,109.69 L125.44,110.06 L124.96,110.42 L124.48,110.78 L124.00,111.14 L123.52,111.49 L123.04,111.84 L122.56,112.18 L122.08,112.52 L121.60,112.85 L121.12,113.17 L120.64,113.49 L120.16,113.80 L119.68,114.10 L119.20,114.40 L118.72,114.69 L118.24,114.97 L117.76,115.25 L117.28,115.51 L116.80,115.77 L116.32,116.01 L115.84,116.25 L115.36,116.48 L114.88,116.70 L114.40,116.90 L113.92,117.10 L113.44,117.29 L112.96,117.46 L112.48,117.63 L112.00,117.78 L111.52,117.95 L111.04,118.11 L110.56,118.26 L110.08,118.39 L109.60,118.52 L109.12,118.62 L108.64,118.72 L108.16,118.80 L107.68,118.87 L107.20,118.92 L106.72,118.96 L106.24,118.99 L105.76,118.99 L105.28,118.98 L104.80,118.96 L104.32,118.94 L103.84,118.91 L103.36,118.88 L102.88,118.85 L102.40,118.81 L101.92,118.77 L101.44,118.74 L100.96,118.70 L100.48,118.66 L100.00,118.63 L99.52,118.59 L99.04,118.56 L98.56,118.54 L98.08,118.51 L97.60,118.49 Z" fill="#888" opacity="0.85"/>
<path d="M97.60,117.60 L98.08,117.61 L98.56,117.63 L99.04,117.66 L99.52,117.70 L100.00,117.76 L100.48,117.82 L100.96,117.89 L101.44,117.96 L101.92,118.03 L102.40,118.09 L102.88,118.15 L103.36,118.21 L103.84,118.25 L104.32,118.28 L104.80,118.30 L105.28,118.31 L105.76,118.28 L106.24,118.22 L106.72,118.12 L107.20,117.98 L107.68,117.82 L108.16,117.64 L108.64,117.42 L109.12,117.18 L109.60,116.92 L110.08,116.63 L110.56,116.32 L111.04,115.98 L111.52,115.63 L112.00,115.25 L112.48,114.86 L112.96,114.44 L113.44,114.01 L113.92,113.56 L114.40,113.09 L114.88,112.60 L115.36,112.10 L115.84,111.58 L116.32,111.05 L116.80,110.50 L117.28,109.94 L117.76,109.37 L118.24,108.78 L118.72,108.18 L119.20,107.57 L119.68,106.95 L120.16,106.32 L120.64,105.68 L121.12,105.03 L121.60,104.37 L122.08,103.70 L122.56,103.03 L123.04,102.34 L123.52,101.66 L124.00,100.96 L124.48,100.26 L124.96,99.56 L125.44,98.85 L125.92,98.14 L126.40,97.43 L126.88,96.71 L127.36,96.00 L127.84,95.28 L128.32,94.56 L128.80,93.84 L129.28,93.12 L129.76,92.40 L130.24,91.68 L130.72,90.97 L131.20,90.26 L131.68,89.55 L132.16,88.84 L132.64,88.14 L133.12,87.44 L133.60,86.75 L134.08,86.06 L134.56,85.38 L135.04,84.71 L135.52,84.04 L136.00,83.38 L136.48,82.73 L136.96,82.08 L137.44,81.44 L137.92,80.82 L138.40,80.20 L138.88,79.59 L139.36,78.99 L139.84,78.41 L140.32,77.83 L140.80,77.26 L141.28,76.71 L141.76,76.17 L142.24,75.64 L142.72,75.12 L143.20,74.62 L143.68,74.13 L144.16,73.65 L144.64,73.19 L145.12,72.74 L145.60,72.30 L146.08,71.88 L146.56,71.48 L147.04,71.09 L147.52,70.71 L148.00,70.35 L148.48,70.01 L148.96,69.68 L149.44,69.37 L149.92,69.07 L150.40,68.79 L150.88,68.53 L151.36,68.28 L151.84,68.05 L152.32,67.84 L152.80,67.64 L153.28,67.46 L153.76,67.30 L154.24,67.15 L154.72,67.02 L155.20,66.91 L155.68,66.82 L156.16,66.74 L156.64,66.68 L157.12,66.64 L157.60,66.61 L158.08,66.60 L158.56,66.62 L159.04,66.67 L159.52,66.75 L160.00,66.86 L160.48,67.01 L160.96,67.19 L161.44,67.40 L161.92,67.64 L162.40,67.91 L162.88,68.22 L163.36,68.55 L163.84,68.92 L164.32,69.32 L164.80,69.75 L165.28,70.20 L165.76,70.69 L166.24,71.21 L166.72,71.75 L167.20,72.32 L167.68,72.92 L168.16,73.55 L168.64,74.21 L169.12,74.88 L169.60,75.59 L170.08,76.32 L170.56,77.07 L171.04,77.85 L171.52,78.65 L172.00,79.47 L172.48,80.31 L172.96,81.17 L173.44,82.06 L173.92,82.96 L174.40,83.88 L174.88,84.82 L175.36,85.77 L175.84,86.74 L176.32,87.73 L176.80,88.72 L177.28,89.74 L177.76,90.76 L178.24,91.79 L178.72,92.84 L179.20,93.90 L179.68,94.96 L180.16,96.03 L180.64,97.11 L181.12,98.19 L181.60,99.28 L182.08,100.37 L182.56,101.47 L183.04,102.57 L183.52,103.66 L184.00,104.76 L184.48,105.86 L184.96,106.96 L185.44,108.05 L185.92,109.14 L186.40,110.22 L186.88,111.30 L187.36,112.37 L187.84,113.43 L188.32,114.49 L188.80,115.53 L189.28,116.57 L189.76,117.59 L190.24,118.61 L190.72,119.60 L191.20,120.59 L191.68,121.56 L192.16,122.51 L192.64,123.45 L193.12,124.37 L193.60,125.27 L194.08,126.15 L194.56,127.02 L195.04,127.86 L195.52,128.68 L196.00,129.48 L196.48,130.26 L196.96,131.01 L197.44,131.74 L197.92,132.44 L198.40,133.12 L198.88,133.78 L199.36,134.40 L199.84,135.00 L200.32,135.58 L200.80,136.12 L201.28,136.64 L201.76,137.12 L202.24,137.58 L202.72,138.01 L203.20,138.41 L203.68,138.77 L204.16,139.11 L204.64,139.42 L205.12,139.69 L205.60,139.93 L206.08,140.14 L206.56,140.32 L207.04,140.47 L207.52,140.58 L208.00,140.66 L208.48,140.71 L208.96,140.73 L209.44,140.72 L209.92,140.68 L210.40,140.62 L210.88,140.52 L211.36,140.40 L211.84,140.24 L212.32,140.05 L212.80,139.82 L213.28,139.56 L213.76,139.26 L214.24,138.93 L214.72,138.56 L215.20,138.15 L215.68,137.71 L216.16,137.23 L216.64,136.72 L217.12,136.17 L217.60,135.58 L218.08,134.95 L218.56,134.29 L219.04,133.59 L219.52,132.86 L220.00,132.09 L220.48,131.29 L220.96,130.45 L221.44,129.58 L221.92,128.67 L222.40,127.73 L222.88,126.76 L223.36,125.76 L223.84,124.72 L224.32,123.66 L224.80,122.56 L225.28,121.44 L225.76,120.29 L226.24,119.11 L226.72,117.91 L227.20,116.68 L227.68,115.42 L228.16,114.14 L228.64,112.84 L229.12,111.52 L229.60,110.18 L230.08,108.82 L230.56,107.45 L231.04,106.05 L231.52,104.64 L232.00,103.22 L232.48,101.79 L232.96,100.34 L233.44,98.88 L233.92,97.42 L234.40,95.94 L234.88,94.47 L235.36,92.98 L235.84,91.50 L236.32,90.01 L236.80,88.52 L237.28,87.03 L237.76,85.54 L238.24,84.06 L238.72,82.59 L239.20,81.12 L239.68,79.65 L240.16,78.20 L240.64,76.76 L241.12,75.33 L241.60,73.92 L242.08,72.52 L242.56,71.14 L243.04,69.78 L243.52,68.43 L244.00,67.11 L244.48,65.81 L244.96,64.53 L245.44,63.28 L245.92,62.05 L246.40,60.86 L246.88,59.69 L247.36,58.55 L247.84,57.44 L248.32,56.37 L248.80,55.33 L249.28,54.32 L249.76,53.35 L250.24,52.42 L250.72,51.53 L251.20,50.67 L251.68,49.86 L252.16,49.08 L252.64,48.35 L253.12,47.66 L253.60,47.01 L254.08,46.41 L254.56,45.86 L255.04,45.35 L255.52,44.88 L256.00,44.47 L256.48,44.10 L256.96,43.78 L257.44,43.50 L257.92,43.28 L258.40,43.11 L258.88,42.98 L259.36,42.91 L259.84,42.88 L260.32,42.98 L260.80,43.17 L261.28,43.44 L261.76,43.77 L262.24,44.15 L262.72,44.59 L263.20,45.07 L263.68,45.59 L264.16,46.16 L264.64,46.76 L265.12,47.39 L265.60,48.06 L266.08,48.76 L266.56,49.49 L267.04,50.25 L267.52,51.04 L268.00,51.85 L268.48,52.69 L268.96,53.55 L269.44,54.44 L269.92,55.34 L270.40,56.27 L270.88,57.21 L271.36,58.17 L271.84,59.15 L272.32,60.15 L272.80,61.16 L273.28,62.18 L273.76,63.22 L274.24,64.27 L274.72,65.33 L275.20,66.40 L275.68,67.48 L276.16,68.57 L276.64,69.67 L277.12,70.78 L277.60,71.89 L278.08,73.01 L278.56,74.13 L279.04,75.26 L279.52,76.39 L280.00,77.52 L280.48,78.66 L280.96,79.79 L281.44,80.93 L281.92,82.07 L282.40,83.21 L282.88,84.34 L283.36,85.48 L283.84,86.61 L284.32,87.74 L284.80,88.86 L285.28,89.99 L285.76,91.10 L286.24,92.21 L286.72,93.32 L287.20,94.42 L287.68,95.51 L288.16,96.59 L288.64,97.67 L289.12,98.74 L289.60,99.80 L290.08,100.85 L290.56,101.89 L291.04,102.91 L291.52,103.93 L292.00,104.94 L292.48,105.93 L292.96,106.92 L293.44,107.89 L293.92,108.85 L294.40,109.79 L294.88,110.72 L295.36,111.64 L295.84,112.54 L296.32,113.43 L296.80,114.30 L297.28,115.16 L297.76,116.00 L298.24,116.82 L298.72,117.63 L299.20,118.42 L299.68,119.20 L300.16,119.96 L300.64,120.70 L301.12,121.42 L301.60,122.13 L302.08,122.81 L302.56,123.48 L303.04,124.13 L303.52,124.77 L304.00,125.38 L304.48,125.97 L304.96,126.55 L305.44,127.10 L305.92,127.64 L306.40,128.16 L306.88,128.65 L307.36,129.13 L307.84,129.59 L308.32,130.02 L308.80,130.44 L309.28,130.84 L309.76,131.21 L310.24,131.57 L310.72,131.91 L311.20,132.22 L311.68,132.52 L312.16,132.79 L312.64,133.05 L313.12,133.28 L313.60,133.49 L314.08,133.68 L314.56,133.86 L315.04,134.01 L315.52,134.14 L316.00,134.25 L316.48,134.34 L316.96,134.41 L317.44,134.46 L317.92,134.49 L318.40,134.50 L318.88,134.49 L319.36,134.46 L319.84,134.42 L320.32,134.35 L320.80,134.26 L321.28,134.16 L321.76,134.04 L322.24,133.90 L322.72,133.74 L323.20,133.56 L323.68,133.36 L324.16,133.15 L324.64,132.91 L325.12,132.66 L325.60,132.40 L326.08,132.11 L326.56,131.81 L327.04,131.49 L327.52,131.16 L328.00,130.81 L328.48,130.44 L328.96,130.06 L329.44,129.66 L329.92,129.24 L330.40,128.82 L330.88,128.37 L331.36,127.92 L331.84,127.45 L332.32,126.96 L332.80,126.47 L333.28,125.96 L333.76,125.44 L334.24,124.91 L334.72,124.36 L335.20,123.81 L335.68,123.24 L336.16,122.67 L336.64,122.09 L337.12,121.49 L337.60,120.89" fill="none" stroke="#ff1414" stroke-width="3.3"/>
<path d="M97.60,117.90 L98.08,117.90 L98.56,117.90 L99.04,117.91 L99.52,117.92 L100.00,117.94 L100.48,117.95 L100.96,117.97 L101.44,117.99 L101.92,118.00 L102.40,118.02 L102.88,118.03 L103.36,118.05 L103.84,118.06 L104.32,118.07 L104.80,118.07 L105.28,118.07 L105.76,118.06 L106.24,118.04 L106.72,117.99 L107.20,117.94 L107.68,117.86 L108.16,117.77 L108.64,117.67 L109.12,117.56 L109.60,117.43 L110.08,117.29 L110.56,117.13 L111.04,116.96 L111.52,116.78 L112.00,116.59 L112.48,116.39 L112.96,116.17 L113.44,115.95 L113.92,115.71 L114.40,115.46 L114.88,115.20 L115.36,114.93 L115.84,114.65 L116.32,114.36 L116.80,114.07 L117.28,113.76 L117.76,113.44 L118.24,113.12 L118.72,112.78 L119.20,112.44 L119.68,112.09 L120.16,111.74 L120.64,111.37 L121.12,111.00 L121.60,110.63 L122.08,110.25 L122.56,109.86 L123.04,109.46 L123.52,109.07 L124.00,108.66 L124.48,108.25 L124.96,107.84 L125.44,107.43 L125.92,107.01 L126.40,106.59 L126.88,106.16 L127.36,105.73 L127.84,105.30 L128.32,104.87 L128.80,104.44 L129.28,104.01 L129.76,103.57 L130.24,103.14 L130.72,102.70 L131.20,102.27 L131.68,101.83 L132.16,101.40 L132.64,100.97 L133.12,100.54 L133.60,100.11 L134.08,99.68 L134.56,99.26 L135.04,98.83 L135.52,98.42 L136.00,98.00 L136.48,97.59 L136.96,97.18 L137.44,96.78 L137.92,96.38 L138.40,95.99 L138.88,95.60 L139.36,95.22 L139.84,94.84 L140.32,94.47 L140.80,94.11 L141.28,93.75 L141.76,93.40 L142.24,93.06 L142.72,92.72 L143.20,92.39 L143.68,92.07 L144.16,91.76 L144.64,91.45 L145.12,91.15 L145.60,90.87 L146.08,90.59 L146.56,90.32 L147.04,90.05 L147.52,89.80 L148.00,89.56 L148.48,89.33 L148.96,89.10 L149.44,88.89 L149.92,88.69 L150.40,88.50 L150.88,88.31 L151.36,88.14 L151.84,87.98 L152.32,87.83 L152.80,87.69 L153.28,87.56 L153.76,87.45 L154.24,87.34 L154.72,87.24 L155.20,87.16 L155.68,87.09 L156.16,87.02 L156.64,86.97 L157.12,86.93 L157.60,86.91 L158.08,86.89 L158.56,86.88 L159.04,86.90 L159.52,86.93 L160.00,87.00 L160.48,87.09 L160.96,87.20 L161.44,87.35 L161.92,87.51 L162.40,87.70 L162.88,87.92 L163.36,88.16 L163.84,88.43 L164.32,88.72 L164.80,89.03 L165.28,89.37 L165.76,89.73 L166.24,90.12 L166.72,90.53 L167.20,90.96 L167.68,91.41 L168.16,91.89 L168.64,92.39 L169.12,92.90 L169.60,93.44 L170.08,94.00 L170.56,94.58 L171.04,95.18 L171.52,95.79 L172.00,96.43 L172.48,97.08 L172.96,97.75 L173.44,98.43 L173.92,99.13 L174.40,99.85 L174.88,100.58 L175.36,101.32 L175.84,102.08 L176.32,102.85 L176.80,103.63 L177.28,104.43 L177.76,105.23 L178.24,106.05 L178.72,106.87 L179.20,107.70 L179.68,108.54 L180.16,109.39 L180.64,110.24 L181.12,111.10 L181.60,111.96 L182.08,112.83 L182.56,113.70 L183.04,114.58 L183.52,115.45 L184.00,116.33 L184.48,117.21 L184.96,118.09 L185.44,118.96 L185.92,119.84 L186.40,120.71 L186.88,121.58 L187.36,122.44 L187.84,123.30 L188.32,124.15 L188.80,125.00 L189.28,125.84 L189.76,126.67 L190.24,127.49 L190.72,128.31 L191.20,129.11 L191.68,129.91 L192.16,130.69 L192.64,131.46 L193.12,132.22 L193.60,132.96 L194.08,133.69 L194.56,134.41 L195.04,135.11 L195.52,135.79 L196.00,136.46 L196.48,137.11 L196.96,137.75 L197.44,138.36 L197.92,138.96 L198.40,139.54 L198.88,140.10 L199.36,140.64 L199.84,141.15 L200.32,141.65 L200.80,142.13 L201.28,142.58 L201.76,143.01 L202.24,143.42 L202.72,143.81 L203.20,144.17 L203.68,144.51 L204.16,144.82 L204.64,145.11 L205.12,145.38 L205.60,145.62 L206.08,145.84 L206.56,146.03 L207.04,146.19 L207.52,146.34 L208.00,146.45 L208.48,146.54 L208.96,146.61 L209.44,146.64 L209.92,146.66 L210.40,146.64 L210.88,146.58 L211.36,146.48 L211.84,146.35 L212.32,146.18 L212.80,145.97 L213.28,145.72 L213.76,145.43 L214.24,145.11 L214.72,144.74 L215.20,144.35 L215.68,143.91 L216.16,143.44 L216.64,142.93 L217.12,142.39 L217.60,141.81 L218.08,141.20 L218.56,140.56 L219.04,139.88 L219.52,139.17 L220.00,138.43 L220.48,137.65 L220.96,136.85 L221.44,136.02 L221.92,135.15 L222.40,134.26 L222.88,133.34 L223.36,132.39 L223.84,131.42 L224.32,130.42 L224.80,129.40 L225.28,128.36 L225.76,127.29 L226.24,126.20 L226.72,125.09 L227.20,123.96 L227.68,122.81 L228.16,121.65 L228.64,120.46 L229.12,119.27 L229.60,118.05 L230.08,116.83 L230.56,115.59 L231.04,114.34 L231.52,113.08 L232.00,111.81 L232.48,110.54 L232.96,109.25 L233.44,107.97 L233.92,106.67 L234.40,105.37 L234.88,104.08 L235.36,102.77 L235.84,101.47 L236.32,100.18 L236.80,98.88 L237.28,97.58 L237.76,96.30 L238.24,95.01 L238.72,93.74 L239.20,92.47 L239.68,91.21 L240.16,89.96 L240.64,88.72 L241.12,87.50 L241.60,86.28 L242.08,85.09 L242.56,83.90 L243.04,82.74 L243.52,81.59 L244.00,80.46 L244.48,79.35 L244.96,78.26 L245.44,77.19 L245.92,76.15 L246.40,75.13 L246.88,74.13 L247.36,73.16 L247.84,72.21 L248.32,71.29 L248.80,70.40 L249.28,69.53 L249.76,68.70 L250.24,67.90 L250.72,67.12 L251.20,66.38 L251.68,65.67 L252.16,64.99 L252.64,64.35 L253.12,63.74 L253.60,63.16 L254.08,62.62 L254.56,62.11 L255.04,61.64 L255.52,61.20 L256.00,60.81 L256.48,60.44 L256.96,60.12 L257.44,59.83 L257.92,59.58 L258.40,59.37 L258.88,59.20 L259.36,59.07 L259.84,58.97 L260.32,58.91 L260.80,58.89 L261.28,59.01 L261.76,59.22 L262.24,59.51 L262.72,59.87 L263.20,60.27 L263.68,60.72 L264.16,61.21 L264.64,61.74 L265.12,62.30 L265.60,62.90 L266.08,63.53 L266.56,64.19 L267.04,64.88 L267.52,65.59 L268.00,66.33 L268.48,67.09 L268.96,67.88 L269.44,68.68 L269.92,69.50 L270.40,70.34 L270.88,71.20 L271.36,72.07 L271.84,72.96 L272.32,73.86 L272.80,74.77 L273.28,75.70 L273.76,76.64 L274.24,77.59 L274.72,78.55 L275.20,79.52 L275.68,80.49 L276.16,81.47 L276.64,82.46 L277.12,83.46 L277.60,84.46 L278.08,85.46 L278.56,86.47 L279.04,87.48 L279.52,88.50 L280.00,89.51 L280.48,90.53 L280.96,91.55 L281.44,92.57 L281.92,93.58 L282.40,94.60 L282.88,95.61 L283.36,96.63 L283.84,97.63 L284.32,98.64 L284.80,99.64 L285.28,100.64 L285.76,101.63 L286.24,102.62 L286.72,103.60 L287.20,104.58 L287.68,105.55 L288.16,106.51 L288.64,107.46 L289.12,108.41 L289.60,109.35 L290.08,110.28 L290.56,111.20 L291.04,112.11 L291.52,113.01 L292.00,113.91 L292.48,114.79 L292.96,115.66 L293.44,116.51 L293.92,117.36 L294.40,118.20 L294.88,119.02 L295.36,119.83 L295.84,120.63 L296.32,121.42 L296.80,122.19 L297.28,122.95 L297.76,123.69 L298.24,124.42 L298.72,125.14 L299.20,125.84 L299.68,126.53 L300.16,127.21 L300.64,127.87 L301.12,128.51 L301.60,129.14 L302.08,129.75 L302.56,130.35 L303.04,130.93 L303.52,131.49 L304.00,132.04 L304.48,132.58 L304.96,133.09 L305.44,133.59 L305.92,134.08 L306.40,134.54 L306.88,135.00 L307.36,135.43 L307.84,135.85 L308.32,136.25 L308.80,136.63 L309.28,137.00 L309.76,137.34 L310.24,137.68 L310.72,137.99 L311.20,138.29 L311.68,138.57 L312.16,138.83 L312.64,139.08 L313.12,139.31 L313.60,139.52 L314.08,139.71 L314.56,139.89 L315.04,140.05 L315.52,140.19 L316.00,140.32 L316.48,140.43 L316.96,140.52 L317.44,140.59 L317.92,140.65 L318.40,140.69 L318.88,140.72 L319.36,140.73 L319.84,140.72 L320.32,140.72 L320.80,140.70 L321.28,140.68 L321.76,140.66 L322.24,140.63 L322.72,140.59 L323.20,140.55 L323.68,140.50 L324.16,140.45 L324.64,140.39 L325.12,140.33 L325.60,140.26 L326.08,140.18 L326.56,140.10 L327.04,140.02 L327.52,139.92 L328.00,139.83 L328.48,139.73 L328.96,139.62 L329.44,139.51 L329.92,139.39 L330.40,139.27 L330.88,139.15 L331.36,139.01 L331.84,138.88 L332.32,138.74 L332.80,138.59 L333.28,138.44 L333.76,138.29 L334.24,138.13 L334.72,137.96 L335.20,137.79 L335.68,137.62 L336.16,137.45 L336.64,137.26 L337.12,137.08 L337.60,136.89" fill="none" stroke="#111" stroke-width="3.6"/>
<path d="M423.25,112.61 L423.73,112.66 L424.21,112.71 L424.69,112.76 L425.17,112.81 L425.65,112.87 L426.14,112.93 L426.62,112.98 L427.10,113.05 L427.58,113.11 L428.06,113.18 L428.54,113.25 L429.02,113.33 L429.50,113.41 L429.98,113.49 L430.46,113.58 L430.95,113.68 L431.43,113.78 L431.91,113.89 L432.39,114.01 L432.87,114.13 L433.35,114.26 L433.83,114.40 L434.31,114.54 L434.79,114.69 L435.27,114.84 L435.76,115.00 L436.24,115.17 L436.72,115.34 L437.20,115.52 L437.68,115.70 L438.16,115.90 L438.64,116.11 L439.12,116.32 L439.60,116.54 L440.09,116.75 L440.57,116.98 L441.05,117.20 L441.53,117.43 L442.01,117.66 L442.49,117.90 L442.97,118.14 L443.45,118.37 L443.93,118.61 L444.41,118.86 L444.89,119.10 L445.38,119.35 L445.86,119.59 L446.34,119.84 L446.82,120.09 L447.30,120.33 L447.78,120.58 L448.26,120.83 L448.74,121.08 L449.22,121.33 L449.70,121.58 L450.19,121.83 L450.67,122.08 L451.15,122.33 L451.63,122.58 L452.11,122.83 L452.59,123.08 L453.07,123.33 L453.55,123.57 L454.03,123.82 L454.51,124.06 L455.00,124.30 L455.48,124.54 L455.96,124.78 L456.44,125.02 L456.92,125.25 L457.40,125.49 L457.88,125.72 L458.36,125.95 L458.84,126.18 L459.32,126.40 L459.81,126.62 L460.29,126.84 L460.77,127.06 L461.25,127.27 L461.73,127.48 L462.21,127.69 L462.69,127.90 L463.17,128.10 L463.65,128.30 L464.13,128.49 L464.62,128.69 L465.10,128.88 L465.58,129.06 L466.06,129.25 L466.54,129.42 L467.02,129.60 L467.50,129.77 L467.98,129.94 L468.46,130.10 L468.94,130.26 L469.43,130.41 L469.91,130.56 L470.39,130.71 L470.87,130.85 L471.35,130.98 L471.83,131.11 L472.31,131.23 L472.79,131.34 L473.27,131.45 L473.75,131.54 L474.24,131.63 L474.72,131.70 L475.20,131.77 L475.68,131.82 L476.16,131.86 L476.64,131.89 L477.12,131.91 L477.60,131.91 L478.08,131.91 L478.56,131.88 L479.05,131.84 L479.53,131.81 L480.01,131.76 L480.49,131.69 L480.97,131.61 L481.45,131.51 L481.93,131.40 L482.41,131.27 L482.89,131.12 L483.38,130.95 L483.86,130.76 L484.34,130.56 L484.82,130.34 L485.30,130.10 L485.78,129.84 L486.26,129.56 L486.74,129.26 L487.22,128.95 L487.70,128.61 L488.19,128.25 L488.67,127.87 L489.15,127.47 L489.63,127.05 L490.11,126.60 L490.59,126.12 L491.07,125.62 L491.55,125.08 L492.03,124.51 L492.51,123.89 L493.00,123.24 L493.48,122.54 L493.96,121.80 L494.44,121.01 L494.92,120.17 L495.40,119.27 L495.88,118.32 L496.36,117.31 L496.84,116.24 L497.32,115.12 L497.81,113.94 L498.29,112.72 L498.77,111.46 L499.25,110.17 L499.73,108.84 L500.21,107.48 L500.69,106.10 L501.17,104.71 L501.65,103.30 L502.13,101.88 L502.62,100.46 L503.10,99.04 L503.58,97.62 L504.06,96.21 L504.54,94.80 L505.02,93.39 L505.50,91.88 L505.98,90.35 L506.46,88.83 L506.94,87.29 L507.43,85.75 L507.91,84.19 L508.39,82.62 L508.87,81.04 L509.35,79.43 L509.83,77.81 L510.31,76.17 L510.79,74.50 L511.27,72.82 L511.75,71.12 L512.24,69.41 L512.72,67.69 L513.20,65.98 L513.68,64.27 L514.16,62.56 L514.64,60.87 L515.12,59.19 L515.60,57.54 L516.08,55.91 L516.56,54.32 L517.04,52.75 L517.53,51.23 L518.01,49.74 L518.49,48.30 L518.97,46.90 L519.45,45.54 L519.93,44.24 L520.41,42.99 L520.89,41.79 L521.37,40.65 L521.86,39.56 L522.34,38.54 L522.82,37.58 L523.30,36.68 L523.78,35.86 L524.26,35.10 L524.74,34.42 L525.22,33.81 L525.70,33.28 L526.18,32.83 L526.66,32.47 L527.15,32.18 L527.63,32.12 L528.11,32.22 L528.59,32.42 L529.07,32.70 L529.55,33.07 L530.03,33.51 L530.51,34.05 L530.99,34.66 L531.48,35.36 L531.96,36.13 L532.44,36.99 L532.92,37.92 L533.40,38.93 L533.88,40.02 L534.36,41.18 L534.84,42.42 L535.32,43.74 L535.80,45.12 L536.28,46.58 L536.77,48.11 L537.25,49.71 L537.73,51.38 L538.21,53.11 L538.69,54.92 L539.17,56.79 L539.65,58.70 L540.13,60.67 L540.61,62.67 L541.10,64.70 L541.58,66.76 L542.06,68.82 L542.54,70.90 L543.02,72.97 L543.50,75.03 L543.98,77.08 L544.46,79.10 L544.94,81.10 L545.42,83.07 L545.90,85.03 L546.39,86.97 L546.87,88.89 L547.35,90.79 L547.83,92.68 L548.31,94.56 L548.79,96.43 L549.27,98.28 L549.75,100.14 L550.23,101.98 L550.72,103.82 L551.20,105.65 L551.68,107.47 L552.16,109.26 L552.64,111.02 L553.12,112.75 L553.60,114.34 L554.08,115.89 L554.56,117.38 L555.04,118.81 L555.52,120.18 L556.01,121.49 L556.49,122.72 L556.97,123.90 L557.45,125.01 L557.93,126.06 L558.41,127.05 L558.89,127.99 L559.37,128.88 L559.85,129.72 L560.34,130.51 L560.82,131.25 L561.30,131.95 L561.78,132.61 L562.26,133.23 L562.74,133.81 L563.22,134.36 L563.70,134.88 L564.18,135.36 L564.66,135.82 L565.14,136.25 L565.63,136.66 L566.11,137.04 L566.59,137.40 L567.07,137.73 L567.55,138.04 L568.03,138.33 L568.51,138.59 L568.99,138.83 L569.47,139.05 L569.96,139.25 L570.44,139.43 L570.92,139.59 L571.40,139.74 L571.88,139.86 L572.36,139.96 L572.84,140.05 L573.32,140.11 L573.80,140.17 L574.28,140.20 L574.76,140.22 L575.25,140.22 L575.73,140.21 L576.21,140.19 L576.69,140.15 L577.17,140.10 L577.65,140.03 L578.13,139.95 L578.61,139.89 L579.09,139.84 L579.58,139.77 L580.06,139.69 L580.54,139.60 L581.02,139.49 L581.50,139.36 L581.98,139.22 L582.46,139.05 L582.94,138.87 L583.42,138.67 L583.90,138.44 L584.38,138.20 L584.87,137.93 L585.35,137.63 L585.83,137.31 L586.31,136.97 L586.79,136.60 L587.27,136.20 L587.75,135.77 L588.23,135.32 L588.71,134.83 L589.20,134.31 L589.68,133.76 L590.16,133.18 L590.64,132.56 L591.12,131.91 L591.60,131.23 L592.08,130.52 L592.56,129.78 L593.04,129.01 L593.52,128.23 L594.00,127.43 L594.49,126.61 L594.97,125.78 L595.45,124.93 L595.93,124.08 L596.41,123.23 L596.89,122.37 L597.37,121.51 L597.85,120.66 L598.33,119.81 L598.82,118.96 L599.30,118.13 L599.78,117.29 L600.26,116.46 L600.74,115.64 L601.22,114.81 L601.70,113.87 L602.18,112.94 L602.66,112.00 L603.14,111.07 L603.62,110.14 L604.11,109.21 L604.59,108.28 L605.07,107.36 L605.55,106.43 L606.03,105.50 L606.51,104.57 L606.99,103.65 L607.47,102.73 L607.95,101.81 L608.43,100.90 L608.92,100.00 L609.40,99.11 L609.88,98.23 L610.36,97.36 L610.84,96.51 L611.32,95.67 L611.80,94.86 L612.28,94.06 L612.76,93.28 L613.25,92.53 L613.73,91.80 L614.21,91.10 L614.69,90.43 L615.17,89.78 L615.65,89.15 L616.13,88.55 L616.61,87.97 L617.09,87.42 L617.57,86.89 L618.05,86.39 L618.54,85.90 L619.02,85.44 L619.50,85.00 L619.98,84.58 L620.46,84.19 L620.94,83.81 L621.42,83.45 L621.90,83.12 L622.38,82.80 L622.87,82.50 L623.35,82.22 L623.83,81.97 L624.31,81.73 L624.79,81.51 L625.27,81.32 L625.75,81.14 L626.23,80.99 L626.71,80.86 L627.19,80.75 L627.67,80.66 L628.16,80.59 L628.64,80.55 L629.12,80.65 L629.60,80.80 L630.08,80.97 L630.56,81.16 L631.04,81.38 L631.52,81.62 L632.00,81.89 L632.49,82.17 L632.97,82.48 L633.45,82.82 L633.93,83.18 L634.41,83.56 L634.89,83.96 L635.37,84.39 L635.85,84.85 L636.33,85.33 L636.81,85.83 L637.30,86.36 L637.78,86.91 L638.26,87.49 L638.74,88.09 L639.22,88.71 L639.70,89.35 L640.18,90.00 L640.66,90.68 L641.14,91.37 L641.62,92.07 L642.11,92.79 L642.59,93.52 L643.07,94.26 L643.55,95.01 L644.03,95.76 L644.51,96.52 L644.99,97.29 L645.47,98.06 L645.95,98.83 L646.43,99.60 L646.91,100.38 L647.40,101.15 L647.88,101.92 L648.36,102.68 L648.84,103.45 L649.32,104.21 L649.80,104.96 L650.28,105.70 L650.76,106.44 L651.24,107.17 L651.73,107.89 L652.21,108.60 L652.69,109.30 L653.17,109.98 L653.65,110.65 L654.13,111.31 L654.61,111.96 L655.09,112.59 L655.57,113.22 L656.05,113.83 L656.54,114.43 L657.02,115.02 L657.50,115.61 L657.98,116.19 L658.46,116.75 L658.94,117.32 L659.42,117.87 L659.90,118.42 L660.38,118.97 L660.86,119.51 L661.35,120.05 L661.83,120.58 L662.31,121.11 L662.79,121.64 L663.27,122.17 L663.75,122.70 L663.75,136.95 L663.27,136.55 L662.79,136.15 L662.31,135.75 L661.83,135.35 L661.35,134.95 L660.86,134.54 L660.38,134.13 L659.90,133.72 L659.42,133.30 L658.94,132.87 L658.46,132.44 L657.98,132.00 L657.50,131.56 L657.02,131.10 L656.54,130.64 L656.05,130.17 L655.57,129.68 L655.09,129.19 L654.61,128.69 L654.13,128.17 L653.65,127.65 L653.17,127.10 L652.69,126.55 L652.21,125.98 L651.73,125.40 L651.24,124.81 L650.76,124.22 L650.28,123.61 L649.80,122.99 L649.32,122.37 L648.84,121.74 L648.36,121.11 L647.88,120.47 L647.40,119.83 L646.91,119.19 L646.43,118.55 L645.95,117.91 L645.47,117.27 L644.99,116.63 L644.51,115.99 L644.03,115.36 L643.55,114.74 L643.07,114.12 L642.59,113.51 L642.11,112.91 L641.62,112.33 L641.14,111.75 L640.66,111.19 L640.18,110.65 L639.70,110.12 L639.22,109.61 L638.74,109.12 L638.26,108.66 L637.78,108.21 L637.30,107.79 L636.81,107.39 L636.33,107.02 L635.85,106.67 L635.37,106.34 L634.89,106.04 L634.41,105.77 L633.93,105.52 L633.45,105.29 L632.97,105.09 L632.49,104.90 L632.00,104.75 L631.52,104.61 L631.04,104.50 L630.56,104.42 L630.08,104.35 L629.60,104.31 L629.12,104.29 L628.64,104.27 L628.16,104.14 L627.67,104.04 L627.19,103.97 L626.71,103.91 L626.23,103.88 L625.75,103.86 L625.27,103.87 L624.79,103.90 L624.31,103.95 L623.83,104.02 L623.35,104.11 L622.87,104.23 L622.38,104.36 L621.90,104.51 L621.42,104.68 L620.94,104.87 L620.46,105.08 L619.98,105.31 L619.50,105.56 L619.02,105.84 L618.54,106.13 L618.05,106.45 L617.57,106.79 L617.09,107.15 L616.61,107.54 L616.13,107.95 L615.65,108.38 L615.17,108.84 L614.69,109.33 L614.21,109.84 L613.73,110.37 L613.25,110.93 L612.76,111.52 L612.28,112.13 L611.80,112.76 L611.32,113.41 L610.84,114.08 L610.36,114.77 L609.88,115.47 L609.40,116.18 L608.92,116.90 L608.43,117.64 L607.95,118.38 L607.47,119.13 L606.99,119.89 L606.51,120.65 L606.03,121.41 L605.55,122.17 L605.07,122.93 L604.59,123.70 L604.11,124.46 L603.62,125.22 L603.14,125.99 L602.66,126.75 L602.18,127.52 L601.70,128.29 L601.22,129.06 L600.74,129.96 L600.26,130.86 L599.78,131.77 L599.30,132.67 L598.82,133.59 L598.33,134.51 L597.85,135.43 L597.37,136.36 L596.89,137.29 L596.41,138.22 L595.93,139.16 L595.45,140.08 L594.97,141.00 L594.49,141.91 L594.00,142.80 L593.52,143.68 L593.04,144.54 L592.56,145.38 L592.08,146.19 L591.60,146.98 L591.12,147.73 L590.64,148.46 L590.16,149.15 L589.68,149.81 L589.20,150.43 L588.71,151.03 L588.23,151.59 L587.75,152.12 L587.27,152.62 L586.79,153.10 L586.31,153.54 L585.83,153.96 L585.35,154.35 L584.87,154.72 L584.38,155.07 L583.90,155.39 L583.42,155.69 L582.94,155.96 L582.46,156.22 L581.98,156.46 L581.50,156.68 L581.02,156.88 L580.54,157.07 L580.06,157.24 L579.58,157.39 L579.09,157.53 L578.61,157.66 L578.13,157.76 L577.65,157.81 L577.17,157.85 L576.69,157.88 L576.21,157.90 L575.73,157.90 L575.25,157.89 L574.76,157.87 L574.28,157.82 L573.80,157.77 L573.32,157.69 L572.84,157.60 L572.36,157.49 L571.88,157.37 L571.40,157.22 L570.92,157.06 L570.44,156.88 L569.96,156.67 L569.47,156.45 L568.99,156.21 L568.51,155.94 L568.03,155.65 L567.55,155.34 L567.07,155.01 L566.59,154.66 L566.11,154.28 L565.63,153.87 L565.14,153.44 L564.66,152.99 L564.18,152.51 L563.70,152.00 L563.22,151.46 L562.74,150.89 L562.26,150.29 L561.78,149.64 L561.30,148.96 L560.82,148.24 L560.34,147.47 L559.85,146.66 L559.37,145.80 L558.89,144.89 L558.41,143.93 L557.93,142.91 L557.45,141.84 L556.97,140.70 L556.49,139.51 L556.01,138.25 L555.52,136.92 L555.04,135.53 L554.56,134.07 L554.08,132.56 L553.60,130.99 L553.12,129.38 L552.64,127.82 L552.16,126.24 L551.68,124.62 L551.20,122.99 L550.72,121.33 L550.23,119.67 L549.75,118.00 L549.27,116.33 L548.79,114.65 L548.31,112.96 L547.83,111.25 L547.35,109.54 L546.87,107.81 L546.39,106.07 L545.90,104.31 L545.42,102.53 L544.94,100.74 L544.46,98.92 L543.98,97.07 L543.50,95.20 L543.02,93.32 L542.54,91.42 L542.06,89.53 L541.58,87.64 L541.10,85.76 L540.61,83.90 L540.13,82.08 L539.65,80.29 L539.17,78.55 L538.69,76.86 L538.21,75.23 L537.73,73.67 L537.25,72.18 L536.77,70.76 L536.28,69.41 L535.80,68.13 L535.32,66.92 L534.84,65.78 L534.36,64.72 L533.88,63.74 L533.40,62.82 L532.92,61.99 L532.44,61.23 L531.96,60.56 L531.48,59.96 L530.99,59.44 L530.51,59.00 L530.03,58.65 L529.55,58.38 L529.07,58.19 L528.59,58.08 L528.11,58.07 L527.63,58.14 L527.15,58.21 L526.66,58.23 L526.18,58.34 L525.70,58.54 L525.22,58.81 L524.74,59.16 L524.26,59.59 L523.78,60.09 L523.30,60.66 L522.82,61.30 L522.34,62.00 L521.86,62.77 L521.37,63.60 L520.89,64.48 L520.41,65.43 L519.93,66.42 L519.45,67.47 L518.97,68.57 L518.49,69.71 L518.01,70.90 L517.53,72.13 L517.04,73.40 L516.56,74.71 L516.08,76.05 L515.60,77.42 L515.12,78.82 L514.64,80.24 L514.16,81.67 L513.68,83.12 L513.20,84.58 L512.72,86.04 L512.24,87.50 L511.75,88.95 L511.27,90.39 L510.79,91.82 L510.31,93.23 L509.83,94.62 L509.35,95.99 L508.87,97.33 L508.39,98.66 L507.91,99.98 L507.43,101.28 L506.94,102.57 L506.46,103.85 L505.98,105.12 L505.50,106.38 L505.02,107.64 L504.54,109.01 L504.06,110.37 L503.58,111.74 L503.10,113.11 L502.62,114.49 L502.13,115.86 L501.65,117.24 L501.17,118.60 L500.69,119.96 L500.21,121.29 L499.73,122.60 L499.25,123.89 L498.77,125.14 L498.29,126.36 L497.81,127.53 L497.32,128.67 L496.84,129.75 L496.36,130.77 L495.88,131.74 L495.40,132.64 L494.92,133.49 L494.44,134.29 L493.96,135.04 L493.48,135.74 L493.00,136.39 L492.51,137.00 L492.03,137.57 L491.55,138.10 L491.07,138.59 L490.59,139.06 L490.11,139.49 L489.63,139.89 L489.15,140.27 L488.67,140.63 L488.19,140.96 L487.70,141.28 L487.22,141.57 L486.74,141.84 L486.26,142.10 L485.78,142.33 L485.30,142.55 L484.82,142.74 L484.34,142.92 L483.86,143.08 L483.38,143.22 L482.89,143.34 L482.41,143.45 L481.93,143.54 L481.45,143.61 L480.97,143.66 L480.49,143.70 L480.01,143.72 L479.53,143.73 L479.05,143.72 L478.56,143.67 L478.08,143.61 L477.60,143.54 L477.12,143.45 L476.64,143.35 L476.16,143.24 L475.68,143.12 L475.20,142.98 L474.72,142.83 L474.24,142.67 L473.75,142.50 L473.27,142.33 L472.79,142.14 L472.31,141.95 L471.83,141.74 L471.35,141.53 L470.87,141.32 L470.39,141.09 L469.91,140.87 L469.43,140.63 L468.94,140.39 L468.46,140.15 L467.98,139.91 L467.50,139.66 L467.02,139.40 L466.54,139.14 L466.06,138.88 L465.58,138.62 L465.10,138.35 L464.62,138.08 L464.13,137.80 L463.65,137.52 L463.17,137.24 L462.69,136.96 L462.21,136.67 L461.73,136.38 L461.25,136.08 L460.77,135.78 L460.29,135.48 L459.81,135.18 L459.32,134.88 L458.84,134.57 L458.36,134.26 L457.88,133.95 L457.40,133.63 L456.92,133.32 L456.44,133.00 L455.96,132.68 L455.48,132.36 L455.00,132.03 L454.51,131.71 L454.03,131.38 L453.55,131.06 L453.07,130.73 L452.59,130.40 L452.11,130.07 L451.63,129.73 L451.15,129.40 L450.67,129.07 L450.19,128.74 L449.70,128.40 L449.22,128.07 L448.74,127.74 L448.26,127.41 L447.78,127.07 L447.30,126.74 L446.82,126.41 L446.34,126.08 L445.86,125.75 L445.38,125.42 L444.89,125.09 L444.41,124.77 L443.93,124.44 L443.45,124.12 L442.97,123.80 L442.49,123.48 L442.01,123.16 L441.53,122.85 L441.05,122.53 L440.57,122.22 L440.09,121.92 L439.60,121.62 L439.12,121.32 L438.64,121.02 L438.16,120.73 L437.68,120.45 L437.20,120.15 L436.72,119.85 L436.24,119.56 L435.76,119.28 L435.27,119.00 L434.79,118.72 L434.31,118.46 L433.83,118.20 L433.35,117.94 L432.87,117.69 L432.39,117.45 L431.91,117.22 L431.43,116.99 L430.95,116.77 L430.46,116.55 L429.98,116.34 L429.50,116.14 L429.02,115.94 L428.54,115.74 L428.06,115.55 L427.58,115.37 L427.10,115.18 L426.62,115.00 L426.14,114.83 L425.65,114.65 L425.17,114.48 L424.69,114.30 L424.21,114.13 L423.73,113.96 L423.25,113.79 Z" fill="#ff8a8a" opacity="0.92"/>
<path d="M423.25,112.61 L423.73,112.59 L424.21,112.57 L424.69,112.56 L425.17,112.54 L425.65,112.52 L426.14,112.50 L426.62,112.48 L427.10,112.45 L427.58,112.42 L428.06,112.38 L428.54,112.35 L429.02,112.30 L429.50,112.26 L429.98,112.20 L430.46,112.14 L430.95,112.08 L431.43,112.01 L431.91,111.93 L432.39,111.84 L432.87,111.75 L433.35,111.65 L433.83,111.55 L434.31,111.44 L434.79,111.33 L435.27,111.22 L435.76,111.10 L436.24,110.99 L436.72,110.88 L437.20,110.77 L437.68,110.67 L438.16,110.58 L438.64,110.49 L439.12,110.41 L439.60,110.34 L440.09,110.28 L440.57,110.23 L441.05,110.20 L441.53,110.18 L442.01,110.17 L442.49,110.18 L442.97,110.20 L443.45,110.24 L443.93,110.29 L444.41,110.35 L444.89,110.43 L445.38,110.52 L445.86,110.62 L446.34,110.73 L446.82,110.86 L447.30,110.99 L447.78,111.14 L448.26,111.30 L448.74,111.47 L449.22,111.64 L449.70,111.83 L450.19,112.03 L450.67,112.23 L451.15,112.44 L451.63,112.66 L452.11,112.89 L452.59,113.13 L453.07,113.37 L453.55,113.61 L454.03,113.86 L454.51,114.12 L455.00,114.38 L455.48,114.64 L455.96,114.91 L456.44,115.17 L456.92,115.44 L457.40,115.71 L457.88,115.98 L458.36,116.25 L458.84,116.52 L459.32,116.78 L459.81,117.05 L460.29,117.31 L460.77,117.57 L461.25,117.82 L461.73,118.07 L462.21,118.32 L462.69,118.56 L463.17,118.79 L463.65,119.02 L464.13,119.24 L464.62,119.45 L465.10,119.66 L465.58,119.86 L466.06,120.05 L466.54,120.23 L467.02,120.41 L467.50,120.57 L467.98,120.73 L468.46,120.88 L468.94,121.03 L469.43,121.16 L469.91,121.28 L470.39,121.40 L470.87,121.51 L471.35,121.60 L471.83,121.69 L472.31,121.77 L472.79,121.83 L473.27,121.89 L473.75,121.94 L474.24,121.97 L474.72,122.00 L475.20,122.01 L475.68,122.01 L476.16,122.01 L476.64,121.99 L477.12,121.95 L477.60,121.90 L478.08,121.84 L478.56,121.76 L479.05,121.68 L479.53,121.58 L480.01,121.48 L480.49,121.36 L480.97,121.23 L481.45,121.09 L481.93,120.95 L482.41,120.79 L482.89,120.62 L483.38,120.44 L483.86,120.25 L484.34,120.06 L484.82,119.85 L485.30,119.63 L485.78,119.41 L486.26,119.17 L486.74,118.93 L487.22,118.68 L487.70,118.42 L488.19,118.15 L488.67,117.87 L489.15,117.58 L489.63,117.29 L490.11,116.98 L490.59,116.67 L491.07,116.34 L491.55,116.01 L492.03,115.66 L492.51,115.30 L493.00,114.92 L493.48,114.53 L493.96,114.13 L494.44,113.71 L494.92,113.27 L495.40,112.81 L495.88,112.34 L496.36,111.85 L496.84,111.34 L497.32,110.81 L497.81,110.26 L498.29,109.69 L498.77,109.10 L499.25,108.48 L499.73,107.84 L500.21,107.18 L500.69,106.49 L501.17,105.78 L501.65,105.05 L502.13,104.30 L502.62,103.53 L503.10,102.75 L503.58,101.95 L504.06,101.13 L504.54,100.31 L505.02,99.47 L505.50,98.63 L505.98,97.77 L506.46,96.92 L506.94,96.05 L507.43,95.19 L507.91,94.32 L508.39,93.45 L508.87,92.59 L509.35,91.73 L509.83,90.87 L510.31,90.01 L510.79,89.16 L511.27,88.32 L511.75,87.49 L512.24,86.66 L512.72,85.85 L513.20,85.04 L513.68,84.25 L514.16,83.46 L514.64,82.70 L515.12,81.94 L515.60,81.20 L516.08,80.48 L516.56,79.77 L517.04,79.08 L517.53,78.42 L518.01,77.77 L518.49,77.14 L518.97,76.54 L519.45,75.96 L519.93,75.40 L520.41,74.87 L520.89,74.37 L521.37,73.89 L521.86,73.45 L522.34,73.03 L522.82,72.65 L523.30,72.30 L523.78,71.98 L524.26,71.70 L524.74,71.46 L525.22,71.25 L525.70,71.08 L526.18,70.95 L526.66,70.86 L527.15,70.81 L527.63,70.85 L528.11,70.97 L528.59,71.12 L529.07,71.31 L529.55,71.55 L530.03,71.82 L530.51,72.12 L530.99,72.47 L531.48,72.85 L531.96,73.26 L532.44,73.70 L532.92,74.18 L533.40,74.68 L533.88,75.21 L534.36,75.77 L534.84,76.36 L535.32,76.97 L535.80,77.61 L536.28,78.26 L536.77,78.94 L537.25,79.64 L537.73,80.36 L538.21,81.10 L538.69,81.86 L539.17,82.63 L539.65,83.41 L540.13,84.21 L540.61,85.02 L541.10,85.85 L541.58,86.68 L542.06,87.52 L542.54,88.38 L543.02,89.24 L543.50,90.11 L543.98,90.98 L544.46,91.86 L544.94,92.75 L545.42,93.64 L545.90,94.53 L546.39,95.42 L546.87,96.32 L547.35,97.21 L547.83,98.11 L548.31,99.00 L548.79,99.89 L549.27,100.78 L549.75,101.66 L550.23,102.54 L550.72,103.41 L551.20,104.28 L551.68,105.14 L552.16,105.99 L552.64,106.84 L553.12,107.68 L553.60,108.51 L554.08,109.33 L554.56,110.14 L555.04,110.94 L555.52,111.73 L556.01,112.51 L556.49,113.28 L556.97,114.03 L557.45,114.77 L557.93,115.50 L558.41,116.21 L558.89,116.91 L559.37,117.59 L559.85,118.26 L560.34,118.91 L560.82,119.54 L561.30,120.15 L561.78,120.75 L562.26,121.33 L562.74,121.90 L563.22,122.44 L563.70,122.97 L564.18,123.48 L564.66,123.97 L565.14,124.44 L565.63,124.89 L566.11,125.32 L566.59,125.74 L567.07,126.14 L567.55,126.51 L568.03,126.87 L568.51,127.21 L568.99,127.53 L569.47,127.83 L569.96,128.10 L570.44,128.36 L570.92,128.60 L571.40,128.82 L571.88,129.01 L572.36,129.19 L572.84,129.34 L573.32,129.48 L573.80,129.59 L574.28,129.68 L574.76,129.75 L575.25,129.80 L575.73,129.82 L576.21,129.82 L576.69,129.79 L577.17,129.73 L577.65,129.66 L578.13,129.57 L578.61,129.45 L579.09,129.32 L579.58,129.17 L580.06,129.00 L580.54,128.82 L581.02,128.61 L581.50,128.40 L581.98,128.17 L582.46,127.92 L582.94,127.66 L583.42,127.39 L583.90,127.10 L584.38,126.80 L584.87,126.50 L585.35,126.18 L585.83,125.85 L586.31,125.51 L586.79,125.16 L587.27,124.81 L587.75,124.45 L588.23,124.08 L588.71,123.70 L589.20,123.32 L589.68,122.94 L590.16,122.55 L590.64,122.15 L591.12,121.76 L591.60,121.36 L592.08,120.96 L592.56,120.55 L593.04,120.14 L593.52,119.73 L594.00,119.32 L594.49,118.90 L594.97,118.49 L595.45,118.07 L595.93,117.65 L596.41,117.23 L596.89,116.81 L597.37,116.39 L597.85,115.97 L598.33,115.55 L598.82,115.13 L599.30,114.70 L599.78,114.28 L600.26,113.86 L600.74,113.44 L601.22,113.02 L601.70,112.60 L602.18,112.18 L602.66,111.76 L603.14,111.34 L603.62,110.92 L604.11,110.50 L604.59,110.08 L605.07,109.67 L605.55,109.25 L606.03,108.83 L606.51,108.42 L606.99,108.00 L607.47,107.59 L607.95,107.19 L608.43,106.79 L608.92,106.39 L609.40,106.00 L609.88,105.62 L610.36,105.25 L610.84,104.89 L611.32,104.54 L611.80,104.20 L612.28,103.87 L612.76,103.56 L613.25,103.26 L613.73,102.98 L614.21,102.71 L614.69,102.46 L615.17,102.22 L615.65,102.00 L616.13,101.79 L616.61,101.60 L617.09,101.41 L617.57,101.24 L618.05,101.08 L618.54,100.93 L619.02,100.79 L619.50,100.66 L619.98,100.53 L620.46,100.42 L620.94,100.31 L621.42,100.20 L621.90,100.10 L622.38,100.01 L622.87,99.92 L623.35,99.84 L623.83,99.76 L624.31,99.70 L624.79,99.64 L625.27,99.60 L625.75,99.56 L626.23,99.53 L626.71,99.52 L627.19,99.52 L627.67,99.53 L628.16,99.56 L628.64,99.60 L629.12,99.66 L629.60,99.73 L630.08,99.81 L630.56,99.91 L631.04,100.03 L631.52,100.16 L632.00,100.30 L632.49,100.46 L632.97,100.63 L633.45,100.82 L633.93,101.03 L634.41,101.25 L634.89,101.48 L635.37,101.73 L635.85,101.99 L636.33,102.27 L636.81,102.57 L637.30,102.88 L637.78,103.21 L638.26,103.55 L638.74,103.91 L639.22,104.28 L639.70,104.66 L640.18,105.05 L640.66,105.45 L641.14,105.86 L641.62,106.28 L642.11,106.70 L642.59,107.13 L643.07,107.57 L643.55,108.01 L644.03,108.46 L644.51,108.90 L644.99,109.35 L645.47,109.80 L645.95,110.25 L646.43,110.69 L646.91,111.14 L647.40,111.58 L647.88,112.01 L648.36,112.44 L648.84,112.86 L649.32,113.27 L649.80,113.68 L650.28,114.07 L650.76,114.46 L651.24,114.83 L651.73,115.19 L652.21,115.53 L652.69,115.86 L653.17,116.17 L653.65,116.47 L654.13,116.75 L654.61,117.01 L655.09,117.26 L655.57,117.50 L656.05,117.72 L656.54,117.93 L657.02,118.13 L657.50,118.31 L657.98,118.49 L658.46,118.65 L658.94,118.81 L659.42,118.96 L659.90,119.10 L660.38,119.24 L660.86,119.37 L661.35,119.50 L661.83,119.62 L662.31,119.74 L662.79,119.86 L663.27,119.97 L663.75,120.09 L663.75,127.21 L663.27,127.13 L662.79,127.05 L662.31,126.96 L661.83,126.87 L661.35,126.78 L660.86,126.69 L660.38,126.59 L659.90,126.48 L659.42,126.37 L658.94,126.26 L658.46,126.13 L657.98,125.99 L657.50,125.85 L657.02,125.70 L656.54,125.53 L656.05,125.35 L655.57,125.16 L655.09,124.96 L654.61,124.74 L654.13,124.51 L653.65,124.26 L653.17,124.00 L652.69,123.72 L652.21,123.42 L651.73,123.11 L651.24,122.78 L650.76,122.44 L650.28,122.09 L649.80,121.73 L649.32,121.35 L648.84,120.97 L648.36,120.58 L647.88,120.19 L647.40,119.78 L646.91,119.38 L646.43,118.96 L645.95,118.55 L645.47,118.13 L644.99,117.72 L644.51,117.30 L644.03,116.89 L643.55,116.47 L643.07,116.07 L642.59,115.66 L642.11,115.26 L641.62,114.87 L641.14,114.48 L640.66,114.10 L640.18,113.73 L639.70,113.37 L639.22,113.02 L638.74,112.69 L638.26,112.36 L637.78,112.05 L637.30,111.76 L636.81,111.48 L636.33,111.21 L635.85,110.97 L635.37,110.73 L634.89,110.51 L634.41,110.31 L633.93,110.12 L633.45,109.95 L632.97,109.80 L632.49,109.65 L632.00,109.53 L631.52,109.41 L631.04,109.32 L630.56,109.23 L630.08,109.17 L629.60,109.11 L629.12,109.08 L628.64,109.05 L628.16,109.04 L627.67,109.05 L627.19,109.07 L626.71,109.10 L626.23,109.15 L625.75,109.21 L625.27,109.27 L624.79,109.35 L624.31,109.44 L623.83,109.54 L623.35,109.65 L622.87,109.76 L622.38,109.88 L621.90,110.01 L621.42,110.14 L620.94,110.28 L620.46,110.42 L619.98,110.57 L619.50,110.73 L619.02,110.90 L618.54,111.07 L618.05,111.26 L617.57,111.45 L617.09,111.65 L616.61,111.87 L616.13,112.10 L615.65,112.34 L615.17,112.59 L614.69,112.86 L614.21,113.15 L613.73,113.45 L613.25,113.76 L612.76,114.10 L612.28,114.44 L611.80,114.80 L611.32,115.18 L610.84,115.56 L610.36,115.95 L609.88,116.36 L609.40,116.77 L608.92,117.19 L608.43,117.62 L607.95,118.06 L607.47,118.50 L606.99,118.94 L606.51,119.39 L606.03,119.83 L605.55,120.28 L605.07,120.73 L604.59,121.18 L604.11,121.63 L603.62,122.09 L603.14,122.54 L602.66,122.99 L602.18,123.44 L601.70,123.90 L601.22,124.35 L600.74,124.80 L600.26,125.26 L599.78,125.71 L599.30,126.17 L598.82,126.62 L598.33,127.08 L597.85,127.53 L597.37,127.99 L596.89,128.44 L596.41,128.89 L595.93,129.35 L595.45,129.80 L594.97,130.25 L594.49,130.70 L594.00,131.15 L593.52,131.59 L593.04,132.03 L592.56,132.48 L592.08,132.91 L591.60,133.35 L591.12,133.78 L590.64,134.21 L590.16,134.64 L589.68,135.06 L589.20,135.48 L588.71,135.89 L588.23,136.30 L587.75,136.70 L587.27,137.10 L586.79,137.49 L586.31,137.87 L585.83,138.24 L585.35,138.60 L584.87,138.95 L584.38,139.29 L583.90,139.62 L583.42,139.94 L582.94,140.25 L582.46,140.54 L581.98,140.82 L581.50,141.08 L581.02,141.33 L580.54,141.57 L580.06,141.79 L579.58,141.99 L579.09,142.17 L578.61,142.34 L578.13,142.48 L577.65,142.61 L577.17,142.72 L576.69,142.80 L576.21,142.87 L575.73,142.92 L575.25,142.95 L574.76,142.96 L574.28,142.95 L573.80,142.92 L573.32,142.87 L572.84,142.79 L572.36,142.70 L571.88,142.58 L571.40,142.44 L570.92,142.28 L570.44,142.11 L569.96,141.91 L569.47,141.69 L568.99,141.45 L568.51,141.19 L568.03,140.91 L567.55,140.61 L567.07,140.29 L566.59,139.95 L566.11,139.60 L565.63,139.22 L565.14,138.83 L564.66,138.41 L564.18,137.98 L563.70,137.53 L563.22,137.06 L562.74,136.58 L562.26,136.07 L561.78,135.55 L561.30,135.01 L560.82,134.46 L560.34,133.88 L559.85,133.29 L559.37,132.68 L558.89,132.06 L558.41,131.42 L557.93,130.77 L557.45,130.10 L556.97,129.42 L556.49,128.72 L556.01,128.01 L555.52,127.29 L555.04,126.56 L554.56,125.82 L554.08,125.07 L553.60,124.31 L553.12,123.53 L552.64,122.75 L552.16,121.97 L551.68,121.17 L551.20,120.37 L550.72,119.56 L550.23,118.74 L549.75,117.92 L549.27,117.10 L548.79,116.27 L548.31,115.44 L547.83,114.61 L547.35,113.77 L546.87,112.94 L546.39,112.10 L545.90,111.27 L545.42,110.43 L544.94,109.60 L544.46,108.77 L543.98,107.95 L543.50,107.14 L543.02,106.33 L542.54,105.52 L542.06,104.73 L541.58,103.94 L541.10,103.17 L540.61,102.40 L540.13,101.65 L539.65,100.91 L539.17,100.18 L538.69,99.47 L538.21,98.78 L537.73,98.10 L537.25,97.44 L536.77,96.79 L536.28,96.17 L535.80,95.57 L535.32,95.00 L534.84,94.44 L534.36,93.92 L533.88,93.41 L533.40,92.94 L532.92,92.49 L532.44,92.08 L531.96,91.69 L531.48,91.34 L530.99,91.02 L530.51,90.74 L530.03,90.49 L529.55,90.28 L529.07,90.10 L528.59,89.97 L528.11,89.87 L527.63,89.82 L527.15,89.78 L526.66,89.73 L526.18,89.73 L525.70,89.77 L525.22,89.85 L524.74,89.97 L524.26,90.13 L523.78,90.32 L523.30,90.54 L522.82,90.80 L522.34,91.10 L521.86,91.42 L521.37,91.78 L520.89,92.16 L520.41,92.57 L519.93,93.01 L519.45,93.48 L518.97,93.97 L518.49,94.48 L518.01,95.02 L517.53,95.58 L517.04,96.16 L516.56,96.75 L516.08,97.37 L515.60,98.00 L515.12,98.65 L514.64,99.32 L514.16,99.99 L513.68,100.69 L513.20,101.39 L512.72,102.11 L512.24,102.83 L511.75,103.57 L511.27,104.31 L510.79,105.06 L510.31,105.82 L509.83,106.59 L509.35,107.36 L508.87,108.13 L508.39,108.90 L507.91,109.68 L507.43,110.46 L506.94,111.23 L506.46,112.00 L505.98,112.77 L505.50,113.53 L505.02,114.29 L504.54,115.03 L504.06,115.77 L503.58,116.49 L503.10,117.20 L502.62,117.90 L502.13,118.58 L501.65,119.24 L501.17,119.88 L500.69,120.50 L500.21,121.10 L499.73,121.67 L499.25,122.22 L498.77,122.74 L498.29,123.25 L497.81,123.73 L497.32,124.19 L496.84,124.63 L496.36,125.05 L495.88,125.45 L495.40,125.83 L494.92,126.19 L494.44,126.54 L493.96,126.87 L493.48,127.19 L493.00,127.48 L492.51,127.77 L492.03,128.04 L491.55,128.30 L491.07,128.55 L490.59,128.78 L490.11,129.01 L489.63,129.22 L489.15,129.43 L488.67,129.62 L488.19,129.81 L487.70,129.99 L487.22,130.16 L486.74,130.32 L486.26,130.48 L485.78,130.62 L485.30,130.76 L484.82,130.88 L484.34,131.00 L483.86,131.11 L483.38,131.20 L482.89,131.29 L482.41,131.37 L481.93,131.44 L481.45,131.50 L480.97,131.54 L480.49,131.58 L480.01,131.61 L479.53,131.62 L479.05,131.63 L478.56,131.62 L478.08,131.61 L477.60,131.58 L477.12,131.54 L476.64,131.49 L476.16,131.43 L475.68,131.37 L475.20,131.29 L474.72,131.20 L474.24,131.11 L473.75,131.00 L473.27,130.88 L472.79,130.75 L472.31,130.61 L471.83,130.46 L471.35,130.30 L470.87,130.13 L470.39,129.95 L469.91,129.76 L469.43,129.56 L468.94,129.35 L468.46,129.14 L467.98,128.91 L467.50,128.68 L467.02,128.44 L466.54,128.19 L466.06,127.94 L465.58,127.67 L465.10,127.40 L464.62,127.12 L464.13,126.83 L463.65,126.54 L463.17,126.24 L462.69,125.93 L462.21,125.62 L461.73,125.30 L461.25,124.98 L460.77,124.65 L460.29,124.32 L459.81,123.98 L459.32,123.64 L458.84,123.30 L458.36,122.96 L457.88,122.62 L457.40,122.28 L456.92,121.94 L456.44,121.59 L455.96,121.25 L455.48,120.92 L455.00,120.58 L454.51,120.25 L454.03,119.92 L453.55,119.59 L453.07,119.28 L452.59,118.96 L452.11,118.65 L451.63,118.35 L451.15,118.06 L450.67,117.77 L450.19,117.49 L449.70,117.23 L449.22,116.96 L448.74,116.71 L448.26,116.47 L447.78,116.24 L447.30,116.02 L446.82,115.81 L446.34,115.61 L445.86,115.43 L445.38,115.25 L444.89,115.09 L444.41,114.94 L443.93,114.80 L443.45,114.68 L442.97,114.57 L442.49,114.47 L442.01,114.39 L441.53,114.32 L441.05,114.27 L440.57,114.23 L440.09,114.21 L439.60,114.20 L439.12,114.19 L438.64,114.20 L438.16,114.21 L437.68,114.23 L437.20,114.26 L436.72,114.28 L436.24,114.31 L435.76,114.35 L435.27,114.38 L434.79,114.42 L434.31,114.45 L433.83,114.48 L433.35,114.50 L432.87,114.52 L432.39,114.54 L431.91,114.54 L431.43,114.54 L430.95,114.53 L430.46,114.52 L429.98,114.50 L429.50,114.47 L429.02,114.44 L428.54,114.40 L428.06,114.36 L427.58,114.32 L427.10,114.27 L426.62,114.22 L426.14,114.16 L425.65,114.10 L425.17,114.04 L424.69,113.98 L424.21,113.92 L423.73,113.86 L423.25,113.79 Z" fill="#888" opacity="0.85"/>
<path d="M423.25,113.20 L423.73,113.31 L424.21,113.42 L424.69,113.53 L425.17,113.65 L425.65,113.76 L426.14,113.88 L426.62,113.99 L427.10,114.12 L427.58,114.24 L428.06,114.37 L428.54,114.50 L429.02,114.63 L429.50,114.77 L429.98,114.92 L430.46,115.07 L430.95,115.22 L431.43,115.39 L431.91,115.55 L432.39,115.73 L432.87,115.91 L433.35,116.10 L433.83,116.30 L434.31,116.50 L434.79,116.71 L435.27,116.92 L435.76,117.14 L436.24,117.36 L436.72,117.60 L437.20,117.83 L437.68,118.07 L438.16,118.32 L438.64,118.57 L439.12,118.82 L439.60,119.08 L440.09,119.34 L440.57,119.60 L441.05,119.87 L441.53,120.14 L442.01,120.41 L442.49,120.69 L442.97,120.97 L443.45,121.25 L443.93,121.53 L444.41,121.81 L444.89,122.10 L445.38,122.38 L445.86,122.67 L446.34,122.96 L446.82,123.25 L447.30,123.54 L447.78,123.83 L448.26,124.12 L448.74,124.41 L449.22,124.70 L449.70,124.99 L450.19,125.29 L450.67,125.58 L451.15,125.87 L451.63,126.16 L452.11,126.45 L452.59,126.74 L453.07,127.03 L453.55,127.31 L454.03,127.60 L454.51,127.88 L455.00,128.17 L455.48,128.45 L455.96,128.73 L456.44,129.01 L456.92,129.29 L457.40,129.56 L457.88,129.83 L458.36,130.10 L458.84,130.37 L459.32,130.64 L459.81,130.90 L460.29,131.16 L460.77,131.42 L461.25,131.68 L461.73,131.93 L462.21,132.18 L462.69,132.43 L463.17,132.67 L463.65,132.91 L464.13,133.15 L464.62,133.38 L465.10,133.61 L465.58,133.84 L466.06,134.06 L466.54,134.28 L467.02,134.50 L467.50,134.71 L467.98,134.92 L468.46,135.13 L468.94,135.33 L469.43,135.52 L469.91,135.72 L470.39,135.90 L470.87,136.08 L471.35,136.26 L471.83,136.43 L472.31,136.59 L472.79,136.74 L473.27,136.89 L473.75,137.02 L474.24,137.15 L474.72,137.27 L475.20,137.37 L475.68,137.47 L476.16,137.55 L476.64,137.62 L477.12,137.68 L477.60,137.73 L478.08,137.76 L478.56,137.78 L479.05,137.78 L479.53,137.77 L480.01,137.74 L480.49,137.70 L480.97,137.64 L481.45,137.56 L481.93,137.47 L482.41,137.36 L482.89,137.23 L483.38,137.08 L483.86,136.92 L484.34,136.74 L484.82,136.54 L485.30,136.32 L485.78,136.09 L486.26,135.83 L486.74,135.55 L487.22,135.26 L487.70,134.94 L488.19,134.61 L488.67,134.25 L489.15,133.87 L489.63,133.47 L490.11,133.04 L490.59,132.59 L491.07,132.11 L491.55,131.59 L492.03,131.04 L492.51,130.45 L493.00,129.81 L493.48,129.14 L493.96,128.42 L494.44,127.65 L494.92,126.83 L495.40,125.96 L495.88,125.03 L496.36,124.04 L496.84,122.99 L497.32,121.89 L497.81,120.74 L498.29,119.54 L498.77,118.30 L499.25,117.03 L499.73,115.72 L500.21,114.39 L500.69,113.03 L501.17,111.65 L501.65,110.27 L502.13,108.87 L502.62,107.47 L503.10,106.07 L503.58,104.68 L504.06,103.29 L504.54,101.91 L505.02,100.52 L505.50,99.13 L505.98,97.74 L506.46,96.34 L506.94,94.93 L507.43,93.51 L507.91,92.08 L508.39,90.64 L508.87,89.19 L509.35,87.71 L509.83,86.22 L510.31,84.70 L510.79,83.16 L511.27,81.60 L511.75,80.03 L512.24,78.45 L512.72,76.87 L513.20,75.28 L513.68,73.69 L514.16,72.12 L514.64,70.55 L515.12,69.01 L515.60,67.48 L516.08,65.98 L516.56,64.51 L517.04,63.08 L517.53,61.68 L518.01,60.32 L518.49,59.01 L518.97,57.73 L519.45,56.51 L519.93,55.33 L520.41,54.21 L520.89,53.14 L521.37,52.12 L521.86,51.17 L522.34,50.27 L522.82,49.44 L523.30,48.67 L523.78,47.97 L524.26,47.35 L524.74,46.79 L525.22,46.31 L525.70,45.91 L526.18,45.59 L526.66,45.35 L527.15,45.19 L527.63,45.13 L528.11,45.15 L528.59,45.25 L529.07,45.44 L529.55,45.72 L530.03,46.08 L530.51,46.52 L530.99,47.05 L531.48,47.66 L531.96,48.34 L532.44,49.11 L532.92,49.96 L533.40,50.88 L533.88,51.88 L534.36,52.95 L534.84,54.10 L535.32,55.33 L535.80,56.62 L536.28,57.99 L536.77,59.43 L537.25,60.95 L537.73,62.53 L538.21,64.17 L538.69,65.89 L539.17,67.67 L539.65,69.50 L540.13,71.37 L540.61,73.29 L541.10,75.23 L541.58,77.20 L542.06,79.18 L542.54,81.16 L543.02,83.14 L543.50,85.12 L543.98,87.08 L544.46,89.01 L544.94,90.92 L545.42,92.80 L545.90,94.67 L546.39,96.52 L546.87,98.35 L547.35,100.17 L547.83,101.97 L548.31,103.76 L548.79,105.54 L549.27,107.31 L549.75,109.07 L550.23,110.83 L550.72,112.58 L551.20,114.32 L551.68,116.04 L552.16,117.75 L552.64,119.42 L553.12,121.06 L553.60,122.67 L554.08,124.22 L554.56,125.72 L555.04,127.17 L555.52,128.55 L556.01,129.87 L556.49,131.11 L556.97,132.30 L557.45,133.42 L557.93,134.48 L558.41,135.49 L558.89,136.44 L559.37,137.34 L559.85,138.19 L560.34,138.99 L560.82,139.75 L561.30,140.46 L561.78,141.13 L562.26,141.76 L562.74,142.35 L563.22,142.91 L563.70,143.44 L564.18,143.93 L564.66,144.40 L565.14,144.85 L565.63,145.27 L566.11,145.66 L566.59,146.03 L567.07,146.37 L567.55,146.69 L568.03,146.99 L568.51,147.27 L568.99,147.52 L569.47,147.75 L569.96,147.96 L570.44,148.16 L570.92,148.33 L571.40,148.48 L571.88,148.61 L572.36,148.73 L572.84,148.82 L573.32,148.90 L573.80,148.97 L574.28,149.01 L574.76,149.04 L575.25,149.06 L575.73,149.06 L576.21,149.04 L576.69,149.02 L577.17,148.98 L577.65,148.92 L578.13,148.85 L578.61,148.78 L579.09,148.69 L579.58,148.58 L580.06,148.47 L580.54,148.33 L581.02,148.19 L581.50,148.02 L581.98,147.84 L582.46,147.64 L582.94,147.42 L583.42,147.18 L583.90,146.91 L584.38,146.63 L584.87,146.32 L585.35,145.99 L585.83,145.64 L586.31,145.26 L586.79,144.85 L587.27,144.41 L587.75,143.95 L588.23,143.45 L588.71,142.93 L589.20,142.37 L589.68,141.79 L590.16,141.17 L590.64,140.51 L591.12,139.82 L591.60,139.10 L592.08,138.35 L592.56,137.58 L593.04,136.78 L593.52,135.95 L594.00,135.11 L594.49,134.26 L594.97,133.39 L595.45,132.51 L595.93,131.62 L596.41,130.73 L596.89,129.83 L597.37,128.94 L597.85,128.04 L598.33,127.16 L598.82,126.28 L599.30,125.40 L599.78,124.53 L600.26,123.66 L600.74,122.80 L601.22,121.94 L601.70,121.08 L602.18,120.23 L602.66,119.38 L603.14,118.53 L603.62,117.68 L604.11,116.83 L604.59,115.99 L605.07,115.14 L605.55,114.30 L606.03,113.46 L606.51,112.61 L606.99,111.77 L607.47,110.93 L607.95,110.10 L608.43,109.27 L608.92,108.45 L609.40,107.64 L609.88,106.85 L610.36,106.06 L610.84,105.29 L611.32,104.54 L611.80,103.81 L612.28,103.09 L612.76,102.40 L613.25,101.73 L613.73,101.09 L614.21,100.47 L614.69,99.88 L615.17,99.31 L615.65,98.77 L616.13,98.25 L616.61,97.76 L617.09,97.29 L617.57,96.84 L618.05,96.42 L618.54,96.02 L619.02,95.64 L619.50,95.28 L619.98,94.95 L620.46,94.63 L620.94,94.34 L621.42,94.07 L621.90,93.81 L622.38,93.58 L622.87,93.36 L623.35,93.17 L623.83,92.99 L624.31,92.84 L624.79,92.71 L625.27,92.60 L625.75,92.50 L626.23,92.43 L626.71,92.39 L627.19,92.36 L627.67,92.35 L628.16,92.37 L628.64,92.41 L629.12,92.47 L629.60,92.55 L630.08,92.66 L630.56,92.79 L631.04,92.94 L631.52,93.12 L632.00,93.32 L632.49,93.54 L632.97,93.78 L633.45,94.05 L633.93,94.35 L634.41,94.66 L634.89,95.00 L635.37,95.37 L635.85,95.76 L636.33,96.17 L636.81,96.61 L637.30,97.07 L637.78,97.56 L638.26,98.07 L638.74,98.61 L639.22,99.16 L639.70,99.73 L640.18,100.33 L640.66,100.94 L641.14,101.56 L641.62,102.20 L642.11,102.85 L642.59,103.52 L643.07,104.19 L643.55,104.87 L644.03,105.56 L644.51,106.26 L644.99,106.96 L645.47,107.66 L645.95,108.37 L646.43,109.08 L646.91,109.78 L647.40,110.49 L647.88,111.19 L648.36,111.90 L648.84,112.59 L649.32,113.29 L649.80,113.98 L650.28,114.66 L650.76,115.33 L651.24,115.99 L651.73,116.65 L652.21,117.29 L652.69,117.92 L653.17,118.54 L653.65,119.15 L654.13,119.74 L654.61,120.32 L655.09,120.89 L655.57,121.45 L656.05,122.00 L656.54,122.53 L657.02,123.06 L657.50,123.58 L657.98,124.09 L658.46,124.60 L658.94,125.09 L659.42,125.58 L659.90,126.07 L660.38,126.55 L660.86,127.03 L661.35,127.50 L661.83,127.97 L662.31,128.43 L662.79,128.90 L663.27,129.36 L663.75,129.82" fill="none" stroke="#ff1414" stroke-width="3.3"/>
<path d="M423.25,113.20 L423.73,113.22 L424.21,113.25 L424.69,113.27 L425.17,113.29 L425.65,113.31 L426.14,113.33 L426.62,113.35 L427.10,113.36 L427.58,113.37 L428.06,113.37 L428.54,113.38 L429.02,113.37 L429.50,113.36 L429.98,113.35 L430.46,113.33 L430.95,113.31 L431.43,113.28 L431.91,113.24 L432.39,113.19 L432.87,113.14 L433.35,113.08 L433.83,113.01 L434.31,112.94 L434.79,112.87 L435.27,112.80 L435.76,112.73 L436.24,112.65 L436.72,112.58 L437.20,112.51 L437.68,112.45 L438.16,112.39 L438.64,112.34 L439.12,112.30 L439.60,112.27 L440.09,112.24 L440.57,112.23 L441.05,112.23 L441.53,112.25 L442.01,112.28 L442.49,112.33 L442.97,112.38 L443.45,112.46 L443.93,112.54 L444.41,112.65 L444.89,112.76 L445.38,112.88 L445.86,113.02 L446.34,113.17 L446.82,113.33 L447.30,113.51 L447.78,113.69 L448.26,113.89 L448.74,114.09 L449.22,114.30 L449.70,114.53 L450.19,114.76 L450.67,115.00 L451.15,115.25 L451.63,115.51 L452.11,115.77 L452.59,116.04 L453.07,116.32 L453.55,116.60 L454.03,116.89 L454.51,117.18 L455.00,117.48 L455.48,117.78 L455.96,118.08 L456.44,118.38 L456.92,118.69 L457.40,118.99 L457.88,119.30 L458.36,119.61 L458.84,119.91 L459.32,120.21 L459.81,120.51 L460.29,120.81 L460.77,121.11 L461.25,121.40 L461.73,121.69 L462.21,121.97 L462.69,122.25 L463.17,122.52 L463.65,122.78 L464.13,123.04 L464.62,123.29 L465.10,123.53 L465.58,123.76 L466.06,123.99 L466.54,124.21 L467.02,124.42 L467.50,124.63 L467.98,124.82 L468.46,125.01 L468.94,125.19 L469.43,125.36 L469.91,125.52 L470.39,125.67 L470.87,125.82 L471.35,125.95 L471.83,126.07 L472.31,126.19 L472.79,126.29 L473.27,126.38 L473.75,126.47 L474.24,126.54 L474.72,126.60 L475.20,126.65 L475.68,126.69 L476.16,126.72 L476.64,126.74 L477.12,126.74 L477.60,126.74 L478.08,126.72 L478.56,126.69 L479.05,126.65 L479.53,126.60 L480.01,126.54 L480.49,126.47 L480.97,126.39 L481.45,126.29 L481.93,126.19 L482.41,126.08 L482.89,125.96 L483.38,125.82 L483.86,125.68 L484.34,125.53 L484.82,125.37 L485.30,125.19 L485.78,125.01 L486.26,124.82 L486.74,124.63 L487.22,124.42 L487.70,124.20 L488.19,123.98 L488.67,123.75 L489.15,123.50 L489.63,123.25 L490.11,122.99 L490.59,122.73 L491.07,122.45 L491.55,122.15 L492.03,121.85 L492.51,121.53 L493.00,121.20 L493.48,120.86 L493.96,120.50 L494.44,120.12 L494.92,119.73 L495.40,119.32 L495.88,118.90 L496.36,118.45 L496.84,117.99 L497.32,117.50 L497.81,117.00 L498.29,116.47 L498.77,115.92 L499.25,115.35 L499.73,114.76 L500.21,114.14 L500.69,113.49 L501.17,112.83 L501.65,112.14 L502.13,111.44 L502.62,110.71 L503.10,109.97 L503.58,109.22 L504.06,108.45 L504.54,107.67 L505.02,106.88 L505.50,106.08 L505.98,105.27 L506.46,104.46 L506.94,103.64 L507.43,102.82 L507.91,102.00 L508.39,101.18 L508.87,100.36 L509.35,99.54 L509.83,98.73 L510.31,97.92 L510.79,97.11 L511.27,96.32 L511.75,95.53 L512.24,94.75 L512.72,93.98 L513.20,93.22 L513.68,92.47 L514.16,91.73 L514.64,91.01 L515.12,90.30 L515.60,89.60 L516.08,88.92 L516.56,88.26 L517.04,87.62 L517.53,87.00 L518.01,86.39 L518.49,85.81 L518.97,85.25 L519.45,84.72 L519.93,84.21 L520.41,83.72 L520.89,83.26 L521.37,82.83 L521.86,82.43 L522.34,82.06 L522.82,81.73 L523.30,81.42 L523.78,81.15 L524.26,80.91 L524.74,80.71 L525.22,80.55 L525.70,80.43 L526.18,80.34 L526.66,80.30 L527.15,80.30 L527.63,80.34 L528.11,80.42 L528.59,80.54 L529.07,80.71 L529.55,80.91 L530.03,81.15 L530.51,81.43 L530.99,81.75 L531.48,82.09 L531.96,82.48 L532.44,82.89 L532.92,83.34 L533.40,83.81 L533.88,84.31 L534.36,84.84 L534.84,85.40 L535.32,85.98 L535.80,86.59 L536.28,87.22 L536.77,87.87 L537.25,88.54 L537.73,89.23 L538.21,89.94 L538.69,90.66 L539.17,91.41 L539.65,92.16 L540.13,92.93 L540.61,93.71 L541.10,94.51 L541.58,95.31 L542.06,96.13 L542.54,96.95 L543.02,97.78 L543.50,98.62 L543.98,99.47 L544.46,100.32 L544.94,101.18 L545.42,102.03 L545.90,102.90 L546.39,103.76 L546.87,104.63 L547.35,105.49 L547.83,106.36 L548.31,107.22 L548.79,108.08 L549.27,108.94 L549.75,109.79 L550.23,110.64 L550.72,111.48 L551.20,112.32 L551.68,113.15 L552.16,113.98 L552.64,114.80 L553.12,115.61 L553.60,116.41 L554.08,117.20 L554.56,117.98 L555.04,118.75 L555.52,119.51 L556.01,120.26 L556.49,121.00 L556.97,121.72 L557.45,122.44 L557.93,123.13 L558.41,123.82 L558.89,124.49 L559.37,125.14 L559.85,125.77 L560.34,126.39 L560.82,127.00 L561.30,127.58 L561.78,128.15 L562.26,128.70 L562.74,129.24 L563.22,129.75 L563.70,130.25 L564.18,130.73 L564.66,131.19 L565.14,131.63 L565.63,132.06 L566.11,132.46 L566.59,132.85 L567.07,133.21 L567.55,133.56 L568.03,133.89 L568.51,134.20 L568.99,134.49 L569.47,134.76 L569.96,135.01 L570.44,135.23 L570.92,135.44 L571.40,135.63 L571.88,135.80 L572.36,135.94 L572.84,136.07 L573.32,136.17 L573.80,136.26 L574.28,136.32 L574.76,136.36 L575.25,136.37 L575.73,136.37 L576.21,136.34 L576.69,136.29 L577.17,136.22 L577.65,136.13 L578.13,136.02 L578.61,135.89 L579.09,135.74 L579.58,135.58 L580.06,135.39 L580.54,135.19 L581.02,134.97 L581.50,134.74 L581.98,134.49 L582.46,134.23 L582.94,133.95 L583.42,133.66 L583.90,133.36 L584.38,133.05 L584.87,132.72 L585.35,132.39 L585.83,132.04 L586.31,131.69 L586.79,131.32 L587.27,130.95 L587.75,130.57 L588.23,130.19 L588.71,129.80 L589.20,129.40 L589.68,129.00 L590.16,128.59 L590.64,128.18 L591.12,127.77 L591.60,127.35 L592.08,126.94 L592.56,126.51 L593.04,126.09 L593.52,125.66 L594.00,125.23 L594.49,124.80 L594.97,124.37 L595.45,123.93 L595.93,123.50 L596.41,123.06 L596.89,122.63 L597.37,122.19 L597.85,121.75 L598.33,121.31 L598.82,120.87 L599.30,120.44 L599.78,120.00 L600.26,119.56 L600.74,119.12 L601.22,118.69 L601.70,118.25 L602.18,117.81 L602.66,117.37 L603.14,116.94 L603.62,116.50 L604.11,116.07 L604.59,115.63 L605.07,115.20 L605.55,114.77 L606.03,114.33 L606.51,113.90 L606.99,113.47 L607.47,113.05 L607.95,112.62 L608.43,112.21 L608.92,111.79 L609.40,111.39 L609.88,110.99 L610.36,110.60 L610.84,110.22 L611.32,109.86 L611.80,109.50 L612.28,109.16 L612.76,108.83 L613.25,108.51 L613.73,108.21 L614.21,107.93 L614.69,107.66 L615.17,107.41 L615.65,107.17 L616.13,106.95 L616.61,106.73 L617.09,106.53 L617.57,106.35 L618.05,106.17 L618.54,106.00 L619.02,105.84 L619.50,105.69 L619.98,105.55 L620.46,105.42 L620.94,105.29 L621.42,105.17 L621.90,105.06 L622.38,104.95 L622.87,104.84 L623.35,104.74 L623.83,104.65 L624.31,104.57 L624.79,104.50 L625.27,104.44 L625.75,104.38 L626.23,104.34 L626.71,104.31 L627.19,104.29 L627.67,104.29 L628.16,104.30 L628.64,104.33 L629.12,104.37 L629.60,104.42 L630.08,104.49 L630.56,104.57 L631.04,104.67 L631.52,104.78 L632.00,104.91 L632.49,105.06 L632.97,105.21 L633.45,105.39 L633.93,105.58 L634.41,105.78 L634.89,106.00 L635.37,106.23 L635.85,106.48 L636.33,106.74 L636.81,107.02 L637.30,107.32 L637.78,107.63 L638.26,107.96 L638.74,108.30 L639.22,108.65 L639.70,109.01 L640.18,109.39 L640.66,109.77 L641.14,110.17 L641.62,110.57 L642.11,110.98 L642.59,111.40 L643.07,111.82 L643.55,112.24 L644.03,112.67 L644.51,113.10 L644.99,113.53 L645.47,113.97 L645.95,114.40 L646.43,114.83 L646.91,115.26 L647.40,115.68 L647.88,116.10 L648.36,116.51 L648.84,116.92 L649.32,117.31 L649.80,117.70 L650.28,118.08 L650.76,118.45 L651.24,118.81 L651.73,119.15 L652.21,119.48 L652.69,119.79 L653.17,120.09 L653.65,120.37 L654.13,120.63 L654.61,120.88 L655.09,121.11 L655.57,121.33 L656.05,121.54 L656.54,121.73 L657.02,121.91 L657.50,122.08 L657.98,122.24 L658.46,122.39 L658.94,122.53 L659.42,122.67 L659.90,122.79 L660.38,122.92 L660.86,123.03 L661.35,123.14 L661.83,123.25 L662.31,123.35 L662.79,123.45 L663.27,123.55 L663.75,123.65" fill="none" stroke="#111" stroke-width="3.6"/>
<path d="M92.8,29.3 H97.6 V161.3 H338.4" fill="none" stroke="#282828" stroke-width="2"/>
<path d="M92.8,29.3 H97.6" stroke="#282828" stroke-width="2"/>
<text transform="translate(68.69,34.99) scale(1.000,1.360)" font-size="12.30" font-weight="normal" fill="#3a3a3a">1.5</text>
<path d="M92.8,58.8 H97.6" stroke="#282828" stroke-width="2"/>
<text transform="translate(68.69,64.57) scale(1.000,1.360)" font-size="12.30" font-weight="normal" fill="#3a3a3a">1.0</text>
<path d="M92.8,88.2 H97.6" stroke="#282828" stroke-width="2"/>
<text transform="translate(68.69,93.97) scale(1.000,1.360)" font-size="12.30" font-weight="normal" fill="#3a3a3a">0.5</text>
<path d="M92.8,117.6 H97.6" stroke="#282828" stroke-width="2"/>
<text transform="translate(68.69,123.37) scale(1.000,1.360)" font-size="12.30" font-weight="normal" fill="#3a3a3a">0.0</text>
<path d="M92.8,147.0 H97.6" stroke="#282828" stroke-width="2"/>
<text transform="translate(64.64,152.77) scale(1.000,1.360)" font-size="12.30" font-weight="normal" fill="#3a3a3a">-0.5</text>
<path d="M102.40,161.3 v4.5 M102.40,177.8 v-4.5 M102.40,199.6 v4.5 M112.00,161.3 v4.5 M112.00,177.8 v-4.5 M112.00,199.6 v4.5 M121.60,161.3 v6.5 M121.60,177.8 v-6.5 M121.60,199.6 v6.5 M131.20,161.3 v4.5 M131.20,177.8 v-4.5 M131.20,199.6 v4.5 M140.80,161.3 v4.5 M140.80,177.8 v-4.5 M140.80,199.6 v4.5 M150.40,161.3 v4.5 M150.40,177.8 v-4.5 M150.40,199.6 v4.5 M160.00,161.3 v4.5 M160.00,177.8 v-4.5 M160.00,199.6 v4.5 M169.60,161.3 v6.5 M169.60,177.8 v-6.5 M169.60,199.6 v6.5 M179.20,161.3 v4.5 M179.20,177.8 v-4.5 M179.20,199.6 v4.5 M188.80,161.3 v4.5 M188.80,177.8 v-4.5 M188.80,199.6 v4.5 M198.40,161.3 v4.5 M198.40,177.8 v-4.5 M198.40,199.6 v4.5 M208.00,161.3 v4.5 M208.00,177.8 v-4.5 M208.00,199.6 v4.5 M217.60,161.3 v6.5 M217.60,177.8 v-6.5 M217.60,199.6 v6.5 M227.20,161.3 v4.5 M227.20,177.8 v-4.5 M227.20,199.6 v4.5 M236.80,161.3 v4.5 M236.80,177.8 v-4.5 M236.80,199.6 v4.5 M246.40,161.3 v4.5 M246.40,177.8 v-4.5 M246.40,199.6 v4.5 M256.00,161.3 v4.5 M256.00,177.8 v-4.5 M256.00,199.6 v4.5 M265.60,161.3 v6.5 M265.60,177.8 v-6.5 M265.60,199.6 v6.5 M275.20,161.3 v4.5 M275.20,177.8 v-4.5 M275.20,199.6 v4.5 M284.80,161.3 v4.5 M284.80,177.8 v-4.5 M284.80,199.6 v4.5 M294.40,161.3 v4.5 M294.40,177.8 v-4.5 M294.40,199.6 v4.5 M304.00,161.3 v4.5 M304.00,177.8 v-4.5 M304.00,199.6 v4.5 M313.60,161.3 v6.5 M313.60,177.8 v-6.5 M313.60,199.6 v6.5 M323.20,161.3 v4.5 M323.20,177.8 v-4.5 M323.20,199.6 v4.5 M332.80,161.3 v4.5 M332.80,177.8 v-4.5 M332.80,199.6 v4.5 " stroke="#282828" stroke-width="1.8"/>
<rect x="97.6" y="177.8" width="240.79999999999998" height="21.8" fill="none" stroke="#282828" stroke-width="2"/>
<path d="M92.8,177.8 H97.6 M92.8,199.6 H97.6" stroke="#282828" stroke-width="2"/>
<text transform="translate(61.81,183.57) scale(1.000,1.360)" font-size="12.30" font-weight="normal" fill="#3a3a3a">0.00</text>
<text transform="translate(61.93,205.37) scale(1.000,1.360)" font-size="12.30" font-weight="normal" fill="#3a3a3a">0.05</text>
<text transform="translate(111.22,227.47) scale(1.000,1.360)" font-size="12.30" font-weight="normal" fill="#3a3a3a">-1.0</text>
<text transform="translate(159.22,227.47) scale(1.000,1.360)" font-size="12.30" font-weight="normal" fill="#3a3a3a">-0.5</text>
<text transform="translate(209.25,227.47) scale(1.000,1.360)" font-size="12.30" font-weight="normal" fill="#3a3a3a">0.0</text>
<text transform="translate(257.25,227.47) scale(1.000,1.360)" font-size="12.30" font-weight="normal" fill="#3a3a3a">0.5</text>
<text transform="translate(305.01,227.47) scale(1.000,1.360)" font-size="12.30" font-weight="normal" fill="#3a3a3a">1.0</text>
<text transform="translate(214.59,242.18) scale(1.000,1.130)" font-size="12.30" font-weight="normal" fill="#3a3a3a">s</text>
<path d="M419.2,30.3 H424.0 V161.3 H663.8" fill="none" stroke="#282828" stroke-width="2"/>
<path d="M419.2,41.1 H424.0" stroke="#282828" stroke-width="2"/>
<text transform="translate(395.39,46.87) scale(1.000,1.360)" font-size="12.30" font-weight="normal" fill="#3a3a3a">0.6</text>
<path d="M419.2,65.1 H424.0" stroke="#282828" stroke-width="2"/>
<text transform="translate(395.27,70.87) scale(1.000,1.360)" font-size="12.30" font-weight="normal" fill="#3a3a3a">0.4</text>
<path d="M419.2,89.1 H424.0" stroke="#282828" stroke-width="2"/>
<text transform="translate(395.52,94.87) scale(1.000,1.360)" font-size="12.30" font-weight="normal" fill="#3a3a3a">0.2</text>
<path d="M419.2,113.2 H424.0" stroke="#282828" stroke-width="2"/>
<text transform="translate(395.39,118.97) scale(1.000,1.360)" font-size="12.30" font-weight="normal" fill="#3a3a3a">0.0</text>
<path d="M419.2,137.1 H424.0" stroke="#282828" stroke-width="2"/>
<text transform="translate(391.46,142.87) scale(1.000,1.360)" font-size="12.30" font-weight="normal" fill="#3a3a3a">-0.2</text>
<path d="M419.2,161.3 H424.0" stroke="#282828" stroke-width="2"/>
<text transform="translate(391.21,167.07) scale(1.000,1.360)" font-size="12.30" font-weight="normal" fill="#3a3a3a">-0.4</text>
<path d="M428.06,161.3 v4.5 M428.06,177.8 v-4.5 M428.06,199.6 v4.5 M437.68,161.3 v4.5 M437.68,177.8 v-4.5 M437.68,199.6 v4.5 M447.30,161.3 v6.5 M447.30,177.8 v-6.5 M447.30,199.6 v6.5 M456.92,161.3 v4.5 M456.92,177.8 v-4.5 M456.92,199.6 v4.5 M466.54,161.3 v4.5 M466.54,177.8 v-4.5 M466.54,199.6 v4.5 M476.16,161.3 v4.5 M476.16,177.8 v-4.5 M476.16,199.6 v4.5 M485.78,161.3 v4.5 M485.78,177.8 v-4.5 M485.78,199.6 v4.5 M495.40,161.3 v6.5 M495.40,177.8 v-6.5 M495.40,199.6 v6.5 M505.02,161.3 v4.5 M505.02,177.8 v-4.5 M505.02,199.6 v4.5 M514.64,161.3 v4.5 M514.64,177.8 v-4.5 M514.64,199.6 v4.5 M524.26,161.3 v4.5 M524.26,177.8 v-4.5 M524.26,199.6 v4.5 M533.88,161.3 v4.5 M533.88,177.8 v-4.5 M533.88,199.6 v4.5 M543.50,161.3 v6.5 M543.50,177.8 v-6.5 M543.50,199.6 v6.5 M553.12,161.3 v4.5 M553.12,177.8 v-4.5 M553.12,199.6 v4.5 M562.74,161.3 v4.5 M562.74,177.8 v-4.5 M562.74,199.6 v4.5 M572.36,161.3 v4.5 M572.36,177.8 v-4.5 M572.36,199.6 v4.5 M581.98,161.3 v4.5 M581.98,177.8 v-4.5 M581.98,199.6 v4.5 M591.60,161.3 v6.5 M591.60,177.8 v-6.5 M591.60,199.6 v6.5 M601.22,161.3 v4.5 M601.22,177.8 v-4.5 M601.22,199.6 v4.5 M610.84,161.3 v4.5 M610.84,177.8 v-4.5 M610.84,199.6 v4.5 M620.46,161.3 v4.5 M620.46,177.8 v-4.5 M620.46,199.6 v4.5 M630.08,161.3 v4.5 M630.08,177.8 v-4.5 M630.08,199.6 v4.5 M639.70,161.3 v6.5 M639.70,177.8 v-6.5 M639.70,199.6 v6.5 M649.32,161.3 v4.5 M649.32,177.8 v-4.5 M649.32,199.6 v4.5 M658.94,161.3 v4.5 M658.94,177.8 v-4.5 M658.94,199.6 v4.5 " stroke="#282828" stroke-width="1.8"/>
<rect x="424.0" y="177.8" width="239.79999999999995" height="21.8" fill="none" stroke="#282828" stroke-width="2"/>
<path d="M419.2,177.8 H424.0 M419.2,199.6 H424.0" stroke="#282828" stroke-width="2"/>
<text transform="translate(388.51,183.57) scale(1.000,1.360)" font-size="12.30" font-weight="normal" fill="#3a3a3a">0.00</text>
<text transform="translate(388.63,205.37) scale(1.000,1.360)" font-size="12.30" font-weight="normal" fill="#3a3a3a">0.05</text>
<text transform="translate(436.92,227.47) scale(1.000,1.360)" font-size="12.30" font-weight="normal" fill="#3a3a3a">-1.0</text>
<text transform="translate(485.02,227.47) scale(1.000,1.360)" font-size="12.30" font-weight="normal" fill="#3a3a3a">-0.5</text>
<text transform="translate(535.15,227.47) scale(1.000,1.360)" font-size="12.30" font-weight="normal" fill="#3a3a3a">0.0</text>
<text transform="translate(583.25,227.47) scale(1.000,1.360)" font-size="12.30" font-weight="normal" fill="#3a3a3a">0.5</text>
<text transform="translate(631.11,227.47) scale(1.000,1.360)" font-size="12.30" font-weight="normal" fill="#3a3a3a">1.0</text>
<text transform="translate(540.49,242.18) scale(1.000,1.130)" font-size="12.30" font-weight="normal" fill="#3a3a3a">s</text>
<path d="M110.8,22.1 H135.8" stroke="#ff1414" stroke-width="3.2" stroke-linecap="round"/>
<path d="M110.8,39.7 H135.8" stroke="#1a1a1a" stroke-width="3.4" stroke-linecap="round"/>
<text transform="translate(143.62,27.02) scale(1.000,1.400)" font-size="11.55" font-weight="normal" fill="#3a3a3a">Stim</text>
<text transform="translate(143.62,45.02) scale(1.000,1.400)" font-size="11.55" font-weight="normal" fill="#3a3a3a">Sham</text>
<text transform="translate(31.40,20.80) scale(1.000,1.175)" font-size="17.38" font-weight="bold" fill="#111">C</text>
<text transform="translate(30.95,282.20) scale(1.000,1.192)" font-size="17.87" font-weight="bold" fill="#111">D</text>
<text transform="translate(227.34,282.30) scale(1.000,1.394)" font-size="15.18" font-weight="bold" fill="#111">E</text>
<text transform="translate(39.10,137.05) rotate(-90) scale(1.320,1)" font-size="11.80" fill="#3a3a3a">Fast spindle</text>
<text transform="translate(54.20,133.05) rotate(-90) scale(1.277,1)" font-size="11.80" fill="#3a3a3a">power (μV)</text>
<text transform="translate(54.20,213.70) rotate(-90) scale(1.336,1)" font-size="11.80" fill="#3a3a3a">p-value</text>
<text transform="translate(362.90,137.96) rotate(-90) scale(1.282,1)" font-size="11.80" fill="#3a3a3a">Slow spindle</text>
<text transform="translate(378.20,133.56) rotate(-90) scale(1.285,1)" font-size="11.80" fill="#3a3a3a">power (μV)</text>
<text transform="translate(378.20,214.72) rotate(-90) scale(1.357,1)" font-size="11.80" fill="#3a3a3a">p-value</text>
<text transform="translate(54.40,348.11) rotate(-90) scale(1.198,1)" font-size="13.20" fill="#3a3a3a">μV</text>
<text transform="translate(245.60,381.85) rotate(-90) scale(1.267,1)" font-size="12.30" fill="#3a3a3a">Retention</text>
<text transform="translate(541.19,12.28) scale(1.000,1.130)" font-size="12.30" font-weight="normal" fill="#3a3a3a">s</text>
<path d="M95.6,272 V404.1 M90.6,404.1 H206.8" fill="none" stroke="#282828" stroke-width="2"/>
<path d="M90.6,293.8 H95.6" stroke="#282828" stroke-width="2"/>
<text transform="translate(66.59,299.49) scale(1.000,1.360)" font-size="12.30" font-weight="normal" fill="#3a3a3a">1.5</text>
<path d="M90.6,330.4 H95.6" stroke="#282828" stroke-width="2"/>
<text transform="translate(66.59,336.17) scale(1.000,1.360)" font-size="12.30" font-weight="normal" fill="#3a3a3a">1.0</text>
<path d="M90.6,366.9 H95.6" stroke="#282828" stroke-width="2"/>
<text transform="translate(66.59,372.67) scale(1.000,1.360)" font-size="12.30" font-weight="normal" fill="#3a3a3a">0.5</text>
<path d="M90.6,404.1 H95.6" stroke="#282828" stroke-width="2"/>
<text transform="translate(66.59,409.87) scale(1.000,1.360)" font-size="12.30" font-weight="normal" fill="#3a3a3a">0.0</text>
<rect x="115.6" y="306.6" width="26.6" height="97.5" fill="#fff" stroke="#282828" stroke-width="2"/>
<rect x="160" y="325" width="26.6" height="79" fill="#000" stroke="#000" stroke-width="1.5"/>
<path d="M128.8,306.6 V294 M121.6,294 H134.2 M173.3,325 V315 M168.2,315 H178.6" stroke="#282828" stroke-width="2"/>
<text transform="translate(146.09,284.92) scale(1.000,1.300)" font-size="19.00" font-weight="normal" fill="#3a3a3a">*</text>
<text transform="translate(121.3,435.6) rotate(-55) scale(1.1,1.0)" font-size="12.3" text-anchor="middle" fill="#3a3a3a">Stim</text>
<text transform="translate(168.0,431.6) rotate(-57) scale(1.1,1.0)" font-size="12.3" text-anchor="middle" fill="#3a3a3a">Sham</text>
<path d="M278.3,293.5 H283 V403.4 H411.8 M278.3,403.4 H283" fill="none" stroke="#282828" stroke-width="2"/>
<path d="M278.3,315.60 H283" stroke="#282828" stroke-width="2"/>
<path d="M278.3,337.60 H283" stroke="#282828" stroke-width="2"/>
<path d="M278.3,359.60 H283" stroke="#282828" stroke-width="2"/>
<path d="M278.3,381.60 H283" stroke="#282828" stroke-width="2"/>
<text transform="translate(258.24,299.37) scale(1.000,1.360)" font-size="12.30" font-weight="normal" fill="#3a3a3a">40</text>
<text transform="translate(258.24,321.37) scale(1.000,1.360)" font-size="12.30" font-weight="normal" fill="#3a3a3a">30</text>
<text transform="translate(258.24,343.37) scale(1.000,1.360)" font-size="12.30" font-weight="normal" fill="#3a3a3a">20</text>
<text transform="translate(258.24,365.37) scale(1.000,1.360)" font-size="12.30" font-weight="normal" fill="#3a3a3a">10</text>
<text transform="translate(265.00,387.37) scale(1.000,1.360)" font-size="12.30" font-weight="normal" fill="#3a3a3a">0</text>
<text transform="translate(254.06,409.37) scale(1.000,1.360)" font-size="12.30" font-weight="normal" fill="#3a3a3a">-10</text>
<path d="M282.80,403.4 v5 M304.30,403.4 v5 M325.80,403.4 v5 M347.30,403.4 v5 M368.80,403.4 v5 M390.30,403.4 v5 M411.80,403.4 v5 " stroke="#282828" stroke-width="1.8"/>
<text transform="translate(279.36,431.47) scale(1.000,1.360)" font-size="12.30" font-weight="normal" fill="#3a3a3a">0</text>
<text transform="translate(322.17,431.47) scale(1.000,1.360)" font-size="12.30" font-weight="normal" fill="#3a3a3a">1</text>
<text transform="translate(365.36,431.55) scale(1.000,1.360)" font-size="12.30" font-weight="normal" fill="#3a3a3a">2</text>
<text transform="translate(408.42,431.47) scale(1.000,1.360)" font-size="12.30" font-weight="normal" fill="#3a3a3a">3</text>
<text transform="translate(294.26,446.20) scale(1.000,1.270)" font-size="12.95" font-weight="normal" fill="#3a3a3a">Fast spindle RMS</text>
<text transform="translate(289.19,464.80) scale(1.000,1.290)" font-size="12.95" font-weight="normal" fill="#3a3a3a">peak amplitude (μV)</text>
<path d="M283,361.2 L412.4,294.8" stroke="#333" stroke-width="1.7"/>
<path d="M283,382.3 L412.4,299" stroke="#333" stroke-width="1.7" stroke-dasharray="12,5"/>
<rect x="301.80" y="343.40" width="5.6" height="5.6" fill="#fff" stroke="#111" stroke-width="1.5"/>
<rect x="300.20" y="356.90" width="5.6" height="5.6" fill="#fff" stroke="#111" stroke-width="1.5"/>
<rect x="331.30" y="321.20" width="5.6" height="5.6" fill="#fff" stroke="#111" stroke-width="1.5"/>
<rect x="342.40" y="314.40" width="5.6" height="5.6" fill="#fff" stroke="#111" stroke-width="1.5"/>
<rect x="346.10" y="319.40" width="5.6" height="5.6" fill="#fff" stroke="#111" stroke-width="1.5"/>
<rect x="346.40" y="328.00" width="5.6" height="5.6" fill="#fff" stroke="#111" stroke-width="1.5"/>
<rect x="338.40" y="323.70" width="5.6" height="5.6" fill="#fff" stroke="#111" stroke-width="1.5"/>
<rect x="334.70" y="338.40" width="5.6" height="5.6" fill="#fff" stroke="#111" stroke-width="1.5"/>
<rect x="337.10" y="352.60" width="5.6" height="5.6" fill="#fff" stroke="#111" stroke-width="1.5"/>
<rect x="394.80" y="301.50" width="5.6" height="5.6" fill="#fff" stroke="#111" stroke-width="1.5"/>
<circle cx="324.3" cy="332.6" r="3.3" fill="#111"/>
<circle cx="307.3" cy="356.9" r="3.3" fill="#111"/>
<circle cx="322.7" cy="363.8" r="3.3" fill="#111"/>
<circle cx="338.1" cy="330.8" r="3.3" fill="#111"/>
<circle cx="330.7" cy="343.7" r="3.3" fill="#111"/>
<circle cx="335.6" cy="347.4" r="3.3" fill="#111"/>
<circle cx="344.2" cy="348.6" r="3.3" fill="#111"/>
<circle cx="368.8" cy="339.4" r="3.3" fill="#111"/>
<circle cx="306.1" cy="379.2" r="3.3" fill="#111"/>
<circle cx="304.9" cy="388.3" r="3.3" fill="#111"/>
<circle cx="334.5" cy="346" r="3.3" fill="#111"/>
</svg>
<div class="note">Part of Figure 2<br>From Ngo et al,<br>Neuron 2013</div>
<div class="l" style="left:696px;top:181.25px;word-spacing:3.135px">(C) Fast- (12–15 Hz, left) and slow- (9–12 Hz,</div>
<div class="l" style="left:696px;top:203.65px;word-spacing:1.448px">right) spindle band activity (root-mean-squared ±</div>
<div class="l" style="left:696px;top:226.05px;word-spacing:2.158px">SEM, at Cz) averaged time locked to the nega-</div>
<div class="l" style="left:696px;top:248.45px;word-spacing:4.612px">tive half-wave peak of all offline detected SO</div>
<div class="l" style="left:696px;top:270.85px;word-spacing:5.679px">cycles (<i>t</i> = 0 s) during SWS epochs of the</div>
<div class="l" style="left:696px;top:293.25px;word-spacing:3.786px">stimulation period for the Stimulation (red line)</div>
<div class="l" style="left:696px;top:315.65px;word-spacing:1.447px">and Sham (black line) conditions. Bottom panels</div>
<div class="l" style="left:696px;top:338.05px;word-spacing:5.733px">indicate significant differences between condi-</div>
<div class="l" style="left:696px;top:360.45px">tions.</div>
<div class="l" style="left:696px;top:382.85px;word-spacing:1.789px">(D) Mean (±SEM) across all subjects of the rms</div>
<div class="l" style="left:696px;top:405.25px;word-spacing:1.736px">peak amplitude determined from the fast-spindle</div>
<div class="l" style="left:696px;top:427.65px;word-spacing:0.792px">activity phase locked to the SO up state after the</div>
<div class="l" style="left:696px;top:450.05px;word-spacing:-0.105px">negative half-wave for the Stimulation (empty bar)</div>
<div class="l" style="left:696px;top:472.45px">and Sham (black bar) conditions.</div>
<div class="l" style="left:30px;top:494.35px;word-spacing:4.761px">(E) Correlation between retention of word pairs and fast-spindle rms peak amplitude during the stimulation period separately for the Stimulation</div>
<div class="l" style="left:30px;top:516.85px;word-spacing:0.078px">(empty squares, solid line, r = 0.798, p = 0.004) and Sham (filled circles, dashed line, r = 0.69, p = 0.018) conditions.</div>
<div class="l" style="left:30px;top:539.55px;word-spacing:1.083px"><sup>*</sup>p &lt; 0.05, <sup>**</sup>p &lt; 0.01, <sup>***</sup>p &lt; 0.001, for comparisons between Stimulation and Sham conditions.</div>
</body></html>
